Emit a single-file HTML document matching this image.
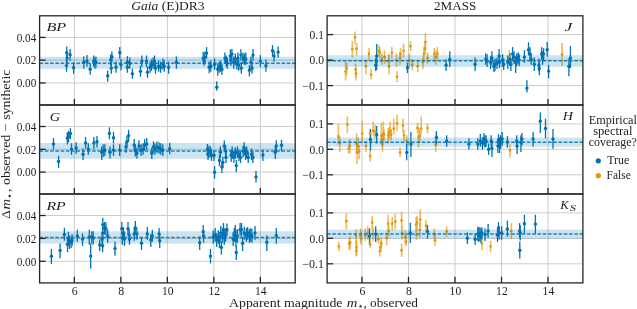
<!DOCTYPE html>
<html><head><meta charset="utf-8"><style>
html,body{margin:0;padding:0;background:#fff;width:637px;height:309px;overflow:hidden;font-family:"Liberation Serif",serif;}
svg{display:block;will-change:transform;}
</style></head><body>
<svg width="637" height="309" viewBox="0 0 637 309">
<rect width="637" height="309" fill="#fff"/>
<line x1="74.36" y1="15.8" x2="74.36" y2="105.0" stroke="#cccccc" stroke-width="1"/>
<line x1="120.86" y1="15.8" x2="120.86" y2="105.0" stroke="#cccccc" stroke-width="1"/>
<line x1="167.36" y1="15.8" x2="167.36" y2="105.0" stroke="#cccccc" stroke-width="1"/>
<line x1="213.86" y1="15.8" x2="213.86" y2="105.0" stroke="#cccccc" stroke-width="1"/>
<line x1="260.36" y1="15.8" x2="260.36" y2="105.0" stroke="#cccccc" stroke-width="1"/>
<line x1="39.6" y1="37.40" x2="295.2" y2="37.40" stroke="#cccccc" stroke-width="1"/>
<line x1="39.6" y1="60.15" x2="295.2" y2="60.15" stroke="#cccccc" stroke-width="1"/>
<line x1="39.6" y1="82.95" x2="295.2" y2="82.95" stroke="#cccccc" stroke-width="1"/>
<line x1="66.7" y1="46.5" x2="66.7" y2="58.7" stroke="#0072B2" stroke-width="1.3" stroke-opacity="1"/>
<line x1="67.1" y1="52.5" x2="67.1" y2="63.8" stroke="#0072B2" stroke-width="1.3" stroke-opacity="1"/>
<line x1="66.5" y1="59.5" x2="66.5" y2="71.8" stroke="#0072B2" stroke-width="1.3" stroke-opacity="1"/>
<line x1="70.1" y1="48.9" x2="70.1" y2="60.7" stroke="#0072B2" stroke-width="1.3" stroke-opacity="1"/>
<line x1="73.6" y1="62.6" x2="73.6" y2="73.8" stroke="#0072B2" stroke-width="1.3" stroke-opacity="1"/>
<line x1="83.8" y1="56.5" x2="83.8" y2="68.8" stroke="#0072B2" stroke-width="1.3" stroke-opacity="1"/>
<line x1="87.0" y1="55.1" x2="87.0" y2="66.8" stroke="#0072B2" stroke-width="1.3" stroke-opacity="1"/>
<line x1="90.2" y1="63.6" x2="90.2" y2="74.8" stroke="#0072B2" stroke-width="1.3" stroke-opacity="1"/>
<line x1="93.7" y1="55.5" x2="93.7" y2="66.8" stroke="#0072B2" stroke-width="1.3" stroke-opacity="1"/>
<line x1="94.9" y1="57.5" x2="94.9" y2="68.8" stroke="#0072B2" stroke-width="1.3" stroke-opacity="1"/>
<line x1="95.9" y1="56.5" x2="95.9" y2="67.8" stroke="#0072B2" stroke-width="1.3" stroke-opacity="1"/>
<line x1="107.7" y1="70.6" x2="107.7" y2="81.8" stroke="#0072B2" stroke-width="1.3" stroke-opacity="1"/>
<line x1="110.7" y1="54.5" x2="110.7" y2="65.8" stroke="#0072B2" stroke-width="1.3" stroke-opacity="1"/>
<line x1="111.3" y1="62.6" x2="111.3" y2="73.8" stroke="#0072B2" stroke-width="1.3" stroke-opacity="1"/>
<line x1="111.9" y1="51.5" x2="111.9" y2="62.3" stroke="#0072B2" stroke-width="1.3" stroke-opacity="1"/>
<line x1="116.0" y1="61.6" x2="116.0" y2="72.8" stroke="#0072B2" stroke-width="1.3" stroke-opacity="1"/>
<line x1="119.8" y1="47.1" x2="119.8" y2="58.7" stroke="#0072B2" stroke-width="1.3" stroke-opacity="1"/>
<line x1="121.0" y1="59.1" x2="121.0" y2="70.4" stroke="#0072B2" stroke-width="1.3" stroke-opacity="1"/>
<line x1="127.4" y1="56.1" x2="127.4" y2="67.8" stroke="#0072B2" stroke-width="1.3" stroke-opacity="1"/>
<line x1="127.4" y1="61.6" x2="127.4" y2="72.8" stroke="#0072B2" stroke-width="1.3" stroke-opacity="1"/>
<line x1="129.8" y1="57.5" x2="129.8" y2="68.8" stroke="#0072B2" stroke-width="1.3" stroke-opacity="1"/>
<line x1="132.4" y1="68.6" x2="132.4" y2="78.8" stroke="#0072B2" stroke-width="1.3" stroke-opacity="1"/>
<line x1="140.5" y1="65.6" x2="140.5" y2="76.8" stroke="#0072B2" stroke-width="1.3" stroke-opacity="1"/>
<line x1="141.9" y1="55.5" x2="141.9" y2="66.8" stroke="#0072B2" stroke-width="1.3" stroke-opacity="1"/>
<line x1="146.5" y1="55.5" x2="146.5" y2="66.8" stroke="#0072B2" stroke-width="1.3" stroke-opacity="1"/>
<line x1="147.5" y1="66.6" x2="147.5" y2="77.8" stroke="#0072B2" stroke-width="1.3" stroke-opacity="1"/>
<line x1="150.1" y1="61.6" x2="150.1" y2="72.8" stroke="#0072B2" stroke-width="1.3" stroke-opacity="1"/>
<line x1="151.5" y1="59.5" x2="151.5" y2="70.8" stroke="#0072B2" stroke-width="1.3" stroke-opacity="1"/>
<line x1="153.1" y1="57.5" x2="153.1" y2="68.8" stroke="#0072B2" stroke-width="1.3" stroke-opacity="1"/>
<line x1="154.5" y1="55.5" x2="154.5" y2="66.8" stroke="#0072B2" stroke-width="1.3" stroke-opacity="1"/>
<line x1="155.5" y1="62.6" x2="155.5" y2="73.8" stroke="#0072B2" stroke-width="1.3" stroke-opacity="1"/>
<line x1="158.6" y1="60.5" x2="158.6" y2="71.8" stroke="#0072B2" stroke-width="1.3" stroke-opacity="1"/>
<line x1="160.6" y1="61.6" x2="160.6" y2="72.8" stroke="#0072B2" stroke-width="1.3" stroke-opacity="1"/>
<line x1="163.0" y1="58.5" x2="163.0" y2="69.8" stroke="#0072B2" stroke-width="1.3" stroke-opacity="1"/>
<line x1="164.2" y1="60.5" x2="164.2" y2="71.8" stroke="#0072B2" stroke-width="1.3" stroke-opacity="1"/>
<line x1="168.6" y1="61.6" x2="168.6" y2="73.8" stroke="#0072B2" stroke-width="1.3" stroke-opacity="1"/>
<line x1="176.4" y1="56.5" x2="176.4" y2="68.8" stroke="#0072B2" stroke-width="1.3" stroke-opacity="1"/>
<line x1="203.2" y1="51.9" x2="203.2" y2="63.8" stroke="#0072B2" stroke-width="1.3" stroke-opacity="1"/>
<line x1="204.8" y1="51.5" x2="204.8" y2="62.8" stroke="#0072B2" stroke-width="1.3" stroke-opacity="1"/>
<line x1="206.6" y1="47.1" x2="206.6" y2="58.7" stroke="#0072B2" stroke-width="1.3" stroke-opacity="1"/>
<line x1="204.2" y1="55.5" x2="204.2" y2="65.8" stroke="#0072B2" stroke-width="1.3" stroke-opacity="1"/>
<line x1="209.2" y1="61.6" x2="209.2" y2="73.2" stroke="#0072B2" stroke-width="1.3" stroke-opacity="1"/>
<line x1="210.8" y1="60.5" x2="210.8" y2="71.8" stroke="#0072B2" stroke-width="1.3" stroke-opacity="1"/>
<line x1="214.6" y1="58.5" x2="214.6" y2="69.8" stroke="#0072B2" stroke-width="1.3" stroke-opacity="1"/>
<line x1="216.8" y1="81.2" x2="216.8" y2="90.7" stroke="#0072B2" stroke-width="1.3" stroke-opacity="1"/>
<line x1="217.8" y1="63.6" x2="217.8" y2="75.8" stroke="#0072B2" stroke-width="1.3" stroke-opacity="1"/>
<line x1="219.2" y1="61.6" x2="219.2" y2="72.8" stroke="#0072B2" stroke-width="1.3" stroke-opacity="1"/>
<line x1="220.6" y1="60.5" x2="220.6" y2="71.8" stroke="#0072B2" stroke-width="1.3" stroke-opacity="1"/>
<line x1="221.9" y1="63.6" x2="221.9" y2="74.8" stroke="#0072B2" stroke-width="1.3" stroke-opacity="1"/>
<line x1="224.9" y1="52.5" x2="224.9" y2="63.8" stroke="#0072B2" stroke-width="1.3" stroke-opacity="1"/>
<line x1="226.3" y1="55.5" x2="226.3" y2="66.8" stroke="#0072B2" stroke-width="1.3" stroke-opacity="1"/>
<line x1="227.3" y1="57.5" x2="227.3" y2="68.8" stroke="#0072B2" stroke-width="1.3" stroke-opacity="1"/>
<line x1="230.3" y1="49.5" x2="230.3" y2="61.7" stroke="#0072B2" stroke-width="1.3" stroke-opacity="1"/>
<line x1="230.9" y1="54.5" x2="230.9" y2="65.8" stroke="#0072B2" stroke-width="1.3" stroke-opacity="1"/>
<line x1="231.9" y1="48.9" x2="231.9" y2="59.7" stroke="#0072B2" stroke-width="1.3" stroke-opacity="1"/>
<line x1="233.7" y1="56.5" x2="233.7" y2="68.8" stroke="#0072B2" stroke-width="1.3" stroke-opacity="1"/>
<line x1="235.3" y1="53.5" x2="235.3" y2="64.8" stroke="#0072B2" stroke-width="1.3" stroke-opacity="1"/>
<line x1="236.9" y1="58.5" x2="236.9" y2="69.8" stroke="#0072B2" stroke-width="1.3" stroke-opacity="1"/>
<line x1="237.9" y1="52.5" x2="237.9" y2="63.8" stroke="#0072B2" stroke-width="1.3" stroke-opacity="1"/>
<line x1="238.7" y1="59.5" x2="238.7" y2="70.8" stroke="#0072B2" stroke-width="1.3" stroke-opacity="1"/>
<line x1="240.9" y1="48.9" x2="240.9" y2="60.7" stroke="#0072B2" stroke-width="1.3" stroke-opacity="1"/>
<line x1="241.3" y1="62.6" x2="241.3" y2="73.8" stroke="#0072B2" stroke-width="1.3" stroke-opacity="1"/>
<line x1="243.0" y1="52.5" x2="243.0" y2="63.8" stroke="#0072B2" stroke-width="1.3" stroke-opacity="1"/>
<line x1="244.4" y1="53.5" x2="244.4" y2="64.8" stroke="#0072B2" stroke-width="1.3" stroke-opacity="1"/>
<line x1="245.8" y1="52.5" x2="245.8" y2="64.8" stroke="#0072B2" stroke-width="1.3" stroke-opacity="1"/>
<line x1="249.4" y1="65.2" x2="249.4" y2="76.4" stroke="#0072B2" stroke-width="1.3" stroke-opacity="1"/>
<line x1="251.0" y1="56.5" x2="251.0" y2="67.8" stroke="#0072B2" stroke-width="1.3" stroke-opacity="1"/>
<line x1="252.0" y1="62.6" x2="252.0" y2="73.8" stroke="#0072B2" stroke-width="1.3" stroke-opacity="1"/>
<line x1="253.0" y1="49.1" x2="253.0" y2="60.7" stroke="#0072B2" stroke-width="1.3" stroke-opacity="1"/>
<line x1="260.4" y1="55.1" x2="260.4" y2="66.8" stroke="#0072B2" stroke-width="1.3" stroke-opacity="1"/>
<line x1="265.9" y1="59.5" x2="265.9" y2="71.8" stroke="#0072B2" stroke-width="1.3" stroke-opacity="1"/>
<line x1="272.5" y1="45.1" x2="272.5" y2="56.7" stroke="#0072B2" stroke-width="1.3" stroke-opacity="1"/>
<line x1="274.1" y1="50.5" x2="274.1" y2="61.7" stroke="#0072B2" stroke-width="1.3" stroke-opacity="1"/>
<line x1="278.1" y1="46.5" x2="278.1" y2="57.7" stroke="#0072B2" stroke-width="1.3" stroke-opacity="1"/>
<circle cx="66.7" cy="52.7" r="1.7" fill="#0072B2"/>
<circle cx="67.1" cy="58.1" r="1.7" fill="#0072B2"/>
<circle cx="66.5" cy="65.6" r="1.7" fill="#0072B2"/>
<circle cx="70.1" cy="54.7" r="1.7" fill="#0072B2"/>
<circle cx="73.6" cy="67.8" r="1.7" fill="#0072B2"/>
<circle cx="83.8" cy="62.2" r="1.7" fill="#0072B2"/>
<circle cx="87.0" cy="61.1" r="1.7" fill="#0072B2"/>
<circle cx="90.2" cy="69.2" r="1.7" fill="#0072B2"/>
<circle cx="93.7" cy="61.1" r="1.7" fill="#0072B2"/>
<circle cx="94.9" cy="63.2" r="1.7" fill="#0072B2"/>
<circle cx="95.9" cy="62.2" r="1.7" fill="#0072B2"/>
<circle cx="107.7" cy="75.8" r="1.7" fill="#0072B2"/>
<circle cx="110.7" cy="59.7" r="1.7" fill="#0072B2"/>
<circle cx="111.3" cy="68.2" r="1.7" fill="#0072B2"/>
<circle cx="111.9" cy="56.7" r="1.7" fill="#0072B2"/>
<circle cx="116.0" cy="67.2" r="1.7" fill="#0072B2"/>
<circle cx="119.8" cy="52.7" r="1.7" fill="#0072B2"/>
<circle cx="121.0" cy="64.6" r="1.7" fill="#0072B2"/>
<circle cx="127.4" cy="62.2" r="1.7" fill="#0072B2"/>
<circle cx="127.4" cy="67.2" r="1.7" fill="#0072B2"/>
<circle cx="129.8" cy="63.2" r="1.7" fill="#0072B2"/>
<circle cx="132.4" cy="73.8" r="1.7" fill="#0072B2"/>
<circle cx="140.5" cy="71.2" r="1.7" fill="#0072B2"/>
<circle cx="141.9" cy="61.1" r="1.7" fill="#0072B2"/>
<circle cx="146.5" cy="61.1" r="1.7" fill="#0072B2"/>
<circle cx="147.5" cy="72.2" r="1.7" fill="#0072B2"/>
<circle cx="150.1" cy="67.2" r="1.7" fill="#0072B2"/>
<circle cx="151.5" cy="65.2" r="1.7" fill="#0072B2"/>
<circle cx="153.1" cy="63.2" r="1.7" fill="#0072B2"/>
<circle cx="154.5" cy="61.1" r="1.7" fill="#0072B2"/>
<circle cx="155.5" cy="68.2" r="1.7" fill="#0072B2"/>
<circle cx="158.6" cy="66.2" r="1.7" fill="#0072B2"/>
<circle cx="160.6" cy="67.2" r="1.7" fill="#0072B2"/>
<circle cx="163.0" cy="64.2" r="1.7" fill="#0072B2"/>
<circle cx="164.2" cy="66.2" r="1.7" fill="#0072B2"/>
<circle cx="168.6" cy="67.2" r="1.7" fill="#0072B2"/>
<circle cx="176.4" cy="62.2" r="1.7" fill="#0072B2"/>
<circle cx="203.2" cy="58.1" r="1.7" fill="#0072B2"/>
<circle cx="204.8" cy="57.1" r="1.7" fill="#0072B2"/>
<circle cx="206.6" cy="53.1" r="1.7" fill="#0072B2"/>
<circle cx="204.2" cy="61.1" r="1.7" fill="#0072B2"/>
<circle cx="209.2" cy="67.2" r="1.7" fill="#0072B2"/>
<circle cx="210.8" cy="66.2" r="1.7" fill="#0072B2"/>
<circle cx="214.6" cy="64.2" r="1.7" fill="#0072B2"/>
<circle cx="216.8" cy="87.3" r="1.7" fill="#0072B2"/>
<circle cx="217.8" cy="69.2" r="1.7" fill="#0072B2"/>
<circle cx="219.2" cy="67.2" r="1.7" fill="#0072B2"/>
<circle cx="220.6" cy="66.2" r="1.7" fill="#0072B2"/>
<circle cx="221.9" cy="69.2" r="1.7" fill="#0072B2"/>
<circle cx="224.9" cy="58.1" r="1.7" fill="#0072B2"/>
<circle cx="226.3" cy="61.1" r="1.7" fill="#0072B2"/>
<circle cx="227.3" cy="63.2" r="1.7" fill="#0072B2"/>
<circle cx="230.3" cy="56.1" r="1.7" fill="#0072B2"/>
<circle cx="230.9" cy="60.1" r="1.7" fill="#0072B2"/>
<circle cx="231.9" cy="54.1" r="1.7" fill="#0072B2"/>
<circle cx="233.7" cy="62.2" r="1.7" fill="#0072B2"/>
<circle cx="235.3" cy="59.1" r="1.7" fill="#0072B2"/>
<circle cx="236.9" cy="64.2" r="1.7" fill="#0072B2"/>
<circle cx="237.9" cy="58.1" r="1.7" fill="#0072B2"/>
<circle cx="238.7" cy="65.2" r="1.7" fill="#0072B2"/>
<circle cx="240.9" cy="55.1" r="1.7" fill="#0072B2"/>
<circle cx="241.3" cy="68.2" r="1.7" fill="#0072B2"/>
<circle cx="243.0" cy="58.1" r="1.7" fill="#0072B2"/>
<circle cx="244.4" cy="59.1" r="1.7" fill="#0072B2"/>
<circle cx="245.8" cy="59.1" r="1.7" fill="#0072B2"/>
<circle cx="249.4" cy="70.2" r="1.7" fill="#0072B2"/>
<circle cx="251.0" cy="62.2" r="1.7" fill="#0072B2"/>
<circle cx="252.0" cy="68.2" r="1.7" fill="#0072B2"/>
<circle cx="253.0" cy="55.1" r="1.7" fill="#0072B2"/>
<circle cx="260.4" cy="61.1" r="1.7" fill="#0072B2"/>
<circle cx="265.9" cy="65.8" r="1.7" fill="#0072B2"/>
<circle cx="272.5" cy="50.7" r="1.7" fill="#0072B2"/>
<circle cx="274.1" cy="56.1" r="1.7" fill="#0072B2"/>
<circle cx="278.1" cy="52.1" r="1.7" fill="#0072B2"/>
<rect x="39.6" y="56.8" width="255.60" height="12.00" fill="rgba(0,114,178,0.2)"/>
<line x1="39.6" y1="63.2" x2="295.2" y2="63.2" stroke="#0072B2" stroke-width="1.5" stroke-opacity="0.85" stroke-dasharray="3.55 1.71"/>
<line x1="74.36" y1="105.0" x2="74.36" y2="98.90" stroke="#262626" stroke-width="1.3"/>
<line x1="120.86" y1="105.0" x2="120.86" y2="98.90" stroke="#262626" stroke-width="1.3"/>
<line x1="167.36" y1="105.0" x2="167.36" y2="98.90" stroke="#262626" stroke-width="1.3"/>
<line x1="213.86" y1="105.0" x2="213.86" y2="98.90" stroke="#262626" stroke-width="1.3"/>
<line x1="260.36" y1="105.0" x2="260.36" y2="98.90" stroke="#262626" stroke-width="1.3"/>
<line x1="39.6" y1="37.40" x2="45.60" y2="37.40" stroke="#262626" stroke-width="1.3"/>
<line x1="39.6" y1="60.15" x2="45.60" y2="60.15" stroke="#262626" stroke-width="1.3"/>
<line x1="39.6" y1="82.95" x2="45.60" y2="82.95" stroke="#262626" stroke-width="1.3"/>
<rect x="39.6" y="15.8" width="255.60" height="89.20" fill="none" stroke="#262626" stroke-width="1.3"/>
<line x1="362.00" y1="15.8" x2="362.00" y2="105.0" stroke="#cccccc" stroke-width="1"/>
<line x1="408.50" y1="15.8" x2="408.50" y2="105.0" stroke="#cccccc" stroke-width="1"/>
<line x1="455.00" y1="15.8" x2="455.00" y2="105.0" stroke="#cccccc" stroke-width="1"/>
<line x1="501.50" y1="15.8" x2="501.50" y2="105.0" stroke="#cccccc" stroke-width="1"/>
<line x1="548.00" y1="15.8" x2="548.00" y2="105.0" stroke="#cccccc" stroke-width="1"/>
<line x1="327.1" y1="34.60" x2="582.9" y2="34.60" stroke="#cccccc" stroke-width="1"/>
<line x1="327.1" y1="60.10" x2="582.9" y2="60.10" stroke="#cccccc" stroke-width="1"/>
<line x1="327.1" y1="85.60" x2="582.9" y2="85.60" stroke="#cccccc" stroke-width="1"/>
<line x1="345.6" y1="61.6" x2="345.6" y2="80.4" stroke="#E49805" stroke-width="1.6" stroke-opacity="0.65"/>
<line x1="346.7" y1="62.6" x2="346.7" y2="75.2" stroke="#E49805" stroke-width="1.6" stroke-opacity="0.65"/>
<line x1="352.3" y1="40.9" x2="352.3" y2="57.6" stroke="#E49805" stroke-width="1.6" stroke-opacity="0.65"/>
<line x1="355.0" y1="31.5" x2="355.0" y2="44.1" stroke="#E49805" stroke-width="1.6" stroke-opacity="0.65"/>
<line x1="356.0" y1="67.8" x2="356.0" y2="80.4" stroke="#E49805" stroke-width="1.6" stroke-opacity="0.65"/>
<line x1="356.6" y1="42.9" x2="356.6" y2="55.5" stroke="#E49805" stroke-width="1.6" stroke-opacity="0.65"/>
<line x1="355.6" y1="63.6" x2="355.6" y2="77.3" stroke="#E49805" stroke-width="1.6" stroke-opacity="0.65"/>
<line x1="365.9" y1="60.5" x2="365.9" y2="74.2" stroke="#E49805" stroke-width="1.6" stroke-opacity="0.65"/>
<line x1="369.0" y1="48.1" x2="369.0" y2="60.7" stroke="#E49805" stroke-width="1.6" stroke-opacity="0.65"/>
<line x1="371.1" y1="68.8" x2="371.1" y2="79.3" stroke="#E49805" stroke-width="1.6" stroke-opacity="0.65"/>
<line x1="375.7" y1="58.5" x2="375.7" y2="71.1" stroke="#0072B2" stroke-width="1.3" stroke-opacity="1"/>
<line x1="376.7" y1="44.0" x2="376.7" y2="70.0" stroke="#0072B2" stroke-width="1.3" stroke-opacity="1"/>
<line x1="376.3" y1="55.4" x2="376.3" y2="66.9" stroke="#0072B2" stroke-width="1.3" stroke-opacity="1"/>
<line x1="378.8" y1="45.0" x2="378.8" y2="56.6" stroke="#E49805" stroke-width="1.6" stroke-opacity="0.65"/>
<line x1="379.8" y1="47.1" x2="379.8" y2="58.6" stroke="#E49805" stroke-width="1.6" stroke-opacity="0.65"/>
<line x1="381.9" y1="53.3" x2="381.9" y2="64.8" stroke="#E49805" stroke-width="1.6" stroke-opacity="0.65"/>
<line x1="384.6" y1="50.2" x2="384.6" y2="63.8" stroke="#E49805" stroke-width="1.6" stroke-opacity="0.65"/>
<line x1="389.1" y1="54.3" x2="389.1" y2="74.2" stroke="#E49805" stroke-width="1.6" stroke-opacity="0.65"/>
<line x1="388.7" y1="54.3" x2="388.7" y2="68.0" stroke="#E49805" stroke-width="1.6" stroke-opacity="0.65"/>
<line x1="391.8" y1="47.1" x2="391.8" y2="58.6" stroke="#E49805" stroke-width="1.6" stroke-opacity="0.65"/>
<line x1="396.4" y1="53.3" x2="396.4" y2="66.9" stroke="#E49805" stroke-width="1.6" stroke-opacity="0.65"/>
<line x1="397.0" y1="70.9" x2="397.0" y2="82.0" stroke="#E49805" stroke-width="1.6" stroke-opacity="0.65"/>
<line x1="399.9" y1="52.3" x2="399.9" y2="64.8" stroke="#E49805" stroke-width="1.6" stroke-opacity="0.65"/>
<line x1="400.5" y1="48.1" x2="400.5" y2="59.7" stroke="#E49805" stroke-width="1.6" stroke-opacity="0.65"/>
<line x1="403.6" y1="43.6" x2="403.6" y2="57.6" stroke="#E49805" stroke-width="1.6" stroke-opacity="0.65"/>
<line x1="407.4" y1="62.6" x2="407.4" y2="73.1" stroke="#0072B2" stroke-width="1.3" stroke-opacity="1"/>
<line x1="409.4" y1="53.3" x2="409.4" y2="68.0" stroke="#E49805" stroke-width="1.6" stroke-opacity="0.65"/>
<line x1="410.5" y1="40.9" x2="410.5" y2="51.4" stroke="#E49805" stroke-width="1.6" stroke-opacity="0.65"/>
<line x1="412.3" y1="59.5" x2="412.3" y2="70.0" stroke="#E49805" stroke-width="1.6" stroke-opacity="0.65"/>
<line x1="417.7" y1="60.5" x2="417.7" y2="72.1" stroke="#E49805" stroke-width="1.6" stroke-opacity="0.65"/>
<line x1="422.9" y1="56.4" x2="422.9" y2="69.0" stroke="#E49805" stroke-width="1.6" stroke-opacity="0.65"/>
<line x1="423.9" y1="47.1" x2="423.9" y2="59.7" stroke="#E49805" stroke-width="1.6" stroke-opacity="0.65"/>
<line x1="425.0" y1="42.9" x2="425.0" y2="54.5" stroke="#E49805" stroke-width="1.6" stroke-opacity="0.65"/>
<line x1="425.4" y1="32.6" x2="425.4" y2="51.4" stroke="#E49805" stroke-width="1.6" stroke-opacity="0.65"/>
<line x1="427.5" y1="52.3" x2="427.5" y2="63.8" stroke="#E49805" stroke-width="1.6" stroke-opacity="0.65"/>
<line x1="434.3" y1="48.1" x2="434.3" y2="59.7" stroke="#E49805" stroke-width="1.6" stroke-opacity="0.65"/>
<line x1="435.7" y1="50.2" x2="435.7" y2="64.8" stroke="#E49805" stroke-width="1.6" stroke-opacity="0.65"/>
<line x1="437.4" y1="47.1" x2="437.4" y2="60.7" stroke="#E49805" stroke-width="1.6" stroke-opacity="0.65"/>
<line x1="446.1" y1="59.5" x2="446.1" y2="71.1" stroke="#0072B2" stroke-width="1.3" stroke-opacity="1"/>
<line x1="449.8" y1="51.2" x2="449.8" y2="66.9" stroke="#0072B2" stroke-width="1.3" stroke-opacity="1"/>
<line x1="475.1" y1="57.4" x2="475.1" y2="71.1" stroke="#0072B2" stroke-width="1.3" stroke-opacity="1"/>
<line x1="485.7" y1="53.3" x2="485.7" y2="64.8" stroke="#0072B2" stroke-width="1.3" stroke-opacity="1"/>
<line x1="487.1" y1="54.3" x2="487.1" y2="66.9" stroke="#0072B2" stroke-width="1.3" stroke-opacity="1"/>
<line x1="490.6" y1="56.4" x2="490.6" y2="69.0" stroke="#0072B2" stroke-width="1.3" stroke-opacity="1"/>
<line x1="491.9" y1="51.2" x2="491.9" y2="64.8" stroke="#0072B2" stroke-width="1.3" stroke-opacity="1"/>
<line x1="493.9" y1="60.5" x2="493.9" y2="72.1" stroke="#0072B2" stroke-width="1.3" stroke-opacity="1"/>
<line x1="495.0" y1="58.5" x2="495.0" y2="71.1" stroke="#0072B2" stroke-width="1.3" stroke-opacity="1"/>
<line x1="497.0" y1="57.4" x2="497.0" y2="69.0" stroke="#0072B2" stroke-width="1.3" stroke-opacity="1"/>
<line x1="499.1" y1="49.1" x2="499.1" y2="61.7" stroke="#0072B2" stroke-width="1.3" stroke-opacity="1"/>
<line x1="499.5" y1="56.4" x2="499.5" y2="68.0" stroke="#0072B2" stroke-width="1.3" stroke-opacity="1"/>
<line x1="502.6" y1="54.3" x2="502.6" y2="66.9" stroke="#0072B2" stroke-width="1.3" stroke-opacity="1"/>
<line x1="503.7" y1="58.5" x2="503.7" y2="70.0" stroke="#0072B2" stroke-width="1.3" stroke-opacity="1"/>
<line x1="507.8" y1="55.4" x2="507.8" y2="69.0" stroke="#0072B2" stroke-width="1.3" stroke-opacity="1"/>
<line x1="509.3" y1="50.2" x2="509.3" y2="63.8" stroke="#E49805" stroke-width="1.6" stroke-opacity="0.65"/>
<line x1="509.9" y1="53.3" x2="509.9" y2="65.9" stroke="#0072B2" stroke-width="1.3" stroke-opacity="1"/>
<line x1="510.9" y1="58.5" x2="510.9" y2="71.1" stroke="#0072B2" stroke-width="1.3" stroke-opacity="1"/>
<line x1="512.6" y1="47.1" x2="512.6" y2="60.7" stroke="#0072B2" stroke-width="1.3" stroke-opacity="1"/>
<line x1="514.0" y1="51.2" x2="514.0" y2="63.8" stroke="#0072B2" stroke-width="1.3" stroke-opacity="1"/>
<line x1="515.7" y1="56.4" x2="515.7" y2="73.1" stroke="#0072B2" stroke-width="1.3" stroke-opacity="1"/>
<line x1="516.7" y1="53.3" x2="516.7" y2="65.9" stroke="#0072B2" stroke-width="1.3" stroke-opacity="1"/>
<line x1="518.2" y1="52.3" x2="518.2" y2="63.8" stroke="#0072B2" stroke-width="1.3" stroke-opacity="1"/>
<line x1="519.2" y1="54.3" x2="519.2" y2="65.9" stroke="#0072B2" stroke-width="1.3" stroke-opacity="1"/>
<line x1="524.4" y1="50.2" x2="524.4" y2="62.8" stroke="#0072B2" stroke-width="1.3" stroke-opacity="1"/>
<line x1="526.9" y1="80.2" x2="526.9" y2="92.6" stroke="#0072B2" stroke-width="1.3" stroke-opacity="1"/>
<line x1="528.5" y1="42.3" x2="528.5" y2="55.5" stroke="#0072B2" stroke-width="1.3" stroke-opacity="1"/>
<line x1="530.0" y1="47.1" x2="530.0" y2="60.7" stroke="#0072B2" stroke-width="1.3" stroke-opacity="1"/>
<line x1="531.2" y1="53.3" x2="531.2" y2="64.8" stroke="#0072B2" stroke-width="1.3" stroke-opacity="1"/>
<line x1="534.3" y1="57.4" x2="534.3" y2="71.1" stroke="#0072B2" stroke-width="1.3" stroke-opacity="1"/>
<line x1="538.9" y1="58.5" x2="538.9" y2="71.1" stroke="#0072B2" stroke-width="1.3" stroke-opacity="1"/>
<line x1="539.3" y1="62.6" x2="539.3" y2="75.2" stroke="#0072B2" stroke-width="1.3" stroke-opacity="1"/>
<line x1="541.6" y1="47.1" x2="541.6" y2="59.7" stroke="#0072B2" stroke-width="1.3" stroke-opacity="1"/>
<line x1="542.6" y1="51.2" x2="542.6" y2="64.8" stroke="#0072B2" stroke-width="1.3" stroke-opacity="1"/>
<line x1="543.6" y1="48.1" x2="543.6" y2="60.7" stroke="#0072B2" stroke-width="1.3" stroke-opacity="1"/>
<line x1="547.2" y1="41.9" x2="547.2" y2="56.6" stroke="#0072B2" stroke-width="1.3" stroke-opacity="1"/>
<line x1="548.6" y1="64.7" x2="548.6" y2="78.3" stroke="#0072B2" stroke-width="1.3" stroke-opacity="1"/>
<line x1="562.1" y1="42.9" x2="562.1" y2="65.9" stroke="#E49805" stroke-width="1.6" stroke-opacity="0.65"/>
<line x1="568.9" y1="58.5" x2="568.9" y2="76.2" stroke="#0072B2" stroke-width="1.3" stroke-opacity="1"/>
<line x1="570.4" y1="46.0" x2="570.4" y2="68.0" stroke="#0072B2" stroke-width="1.3" stroke-opacity="1"/>
<circle cx="345.6" cy="71.5" r="1.35" fill="#E49805"/>
<circle cx="346.7" cy="68.4" r="1.35" fill="#E49805"/>
<circle cx="352.3" cy="49.1" r="1.35" fill="#E49805"/>
<circle cx="355.0" cy="37.3" r="1.35" fill="#E49805"/>
<circle cx="356.0" cy="73.6" r="1.35" fill="#E49805"/>
<circle cx="356.6" cy="48.7" r="1.35" fill="#E49805"/>
<circle cx="355.6" cy="69.4" r="1.35" fill="#E49805"/>
<circle cx="365.9" cy="66.3" r="1.35" fill="#E49805"/>
<circle cx="369.0" cy="53.9" r="1.35" fill="#E49805"/>
<circle cx="371.1" cy="74.6" r="1.35" fill="#E49805"/>
<circle cx="375.7" cy="65.3" r="1.7" fill="#0072B2"/>
<circle cx="376.7" cy="56.0" r="1.7" fill="#0072B2"/>
<circle cx="376.3" cy="61.1" r="1.7" fill="#0072B2"/>
<circle cx="378.8" cy="50.8" r="1.35" fill="#E49805"/>
<circle cx="379.8" cy="52.4" r="1.35" fill="#E49805"/>
<circle cx="381.9" cy="59.1" r="1.35" fill="#E49805"/>
<circle cx="384.6" cy="57.0" r="1.35" fill="#E49805"/>
<circle cx="389.1" cy="66.3" r="1.35" fill="#E49805"/>
<circle cx="388.7" cy="61.1" r="1.35" fill="#E49805"/>
<circle cx="391.8" cy="52.9" r="1.35" fill="#E49805"/>
<circle cx="396.4" cy="60.1" r="1.35" fill="#E49805"/>
<circle cx="397.0" cy="76.7" r="1.35" fill="#E49805"/>
<circle cx="399.9" cy="58.0" r="1.35" fill="#E49805"/>
<circle cx="400.5" cy="53.9" r="1.35" fill="#E49805"/>
<circle cx="403.6" cy="50.8" r="1.35" fill="#E49805"/>
<circle cx="407.4" cy="67.8" r="1.7" fill="#0072B2"/>
<circle cx="409.4" cy="60.1" r="1.35" fill="#E49805"/>
<circle cx="410.5" cy="46.2" r="1.35" fill="#E49805"/>
<circle cx="412.3" cy="64.9" r="1.35" fill="#E49805"/>
<circle cx="417.7" cy="66.3" r="1.35" fill="#E49805"/>
<circle cx="422.9" cy="62.2" r="1.35" fill="#E49805"/>
<circle cx="423.9" cy="53.9" r="1.35" fill="#E49805"/>
<circle cx="425.0" cy="48.7" r="1.35" fill="#E49805"/>
<circle cx="425.4" cy="42.1" r="1.35" fill="#E49805"/>
<circle cx="427.5" cy="58.0" r="1.35" fill="#E49805"/>
<circle cx="434.3" cy="53.9" r="1.35" fill="#E49805"/>
<circle cx="435.7" cy="57.0" r="1.35" fill="#E49805"/>
<circle cx="437.4" cy="53.9" r="1.35" fill="#E49805"/>
<circle cx="446.1" cy="65.3" r="1.7" fill="#0072B2"/>
<circle cx="449.8" cy="59.5" r="1.7" fill="#0072B2"/>
<circle cx="475.1" cy="64.2" r="1.7" fill="#0072B2"/>
<circle cx="485.7" cy="59.1" r="1.7" fill="#0072B2"/>
<circle cx="487.1" cy="61.1" r="1.7" fill="#0072B2"/>
<circle cx="490.6" cy="62.2" r="1.7" fill="#0072B2"/>
<circle cx="491.9" cy="58.0" r="1.7" fill="#0072B2"/>
<circle cx="493.9" cy="66.3" r="1.7" fill="#0072B2"/>
<circle cx="495.0" cy="64.2" r="1.7" fill="#0072B2"/>
<circle cx="497.0" cy="63.2" r="1.7" fill="#0072B2"/>
<circle cx="499.1" cy="56.0" r="1.7" fill="#0072B2"/>
<circle cx="499.5" cy="62.2" r="1.7" fill="#0072B2"/>
<circle cx="502.6" cy="60.1" r="1.7" fill="#0072B2"/>
<circle cx="503.7" cy="64.2" r="1.7" fill="#0072B2"/>
<circle cx="507.8" cy="62.2" r="1.7" fill="#0072B2"/>
<circle cx="509.3" cy="57.0" r="1.35" fill="#E49805"/>
<circle cx="509.9" cy="59.1" r="1.7" fill="#0072B2"/>
<circle cx="510.9" cy="64.2" r="1.7" fill="#0072B2"/>
<circle cx="512.6" cy="53.9" r="1.7" fill="#0072B2"/>
<circle cx="514.0" cy="57.0" r="1.7" fill="#0072B2"/>
<circle cx="515.7" cy="62.2" r="1.7" fill="#0072B2"/>
<circle cx="516.7" cy="59.1" r="1.7" fill="#0072B2"/>
<circle cx="518.2" cy="57.0" r="1.7" fill="#0072B2"/>
<circle cx="519.2" cy="60.1" r="1.7" fill="#0072B2"/>
<circle cx="524.4" cy="57.0" r="1.7" fill="#0072B2"/>
<circle cx="526.9" cy="88.1" r="1.7" fill="#0072B2"/>
<circle cx="528.5" cy="49.7" r="1.7" fill="#0072B2"/>
<circle cx="530.0" cy="53.9" r="1.7" fill="#0072B2"/>
<circle cx="531.2" cy="59.1" r="1.7" fill="#0072B2"/>
<circle cx="534.3" cy="64.2" r="1.7" fill="#0072B2"/>
<circle cx="538.9" cy="65.3" r="1.7" fill="#0072B2"/>
<circle cx="539.3" cy="68.4" r="1.7" fill="#0072B2"/>
<circle cx="541.6" cy="53.9" r="1.7" fill="#0072B2"/>
<circle cx="542.6" cy="58.0" r="1.7" fill="#0072B2"/>
<circle cx="543.6" cy="53.9" r="1.7" fill="#0072B2"/>
<circle cx="547.2" cy="49.7" r="1.7" fill="#0072B2"/>
<circle cx="548.6" cy="71.1" r="1.7" fill="#0072B2"/>
<circle cx="562.1" cy="54.5" r="1.35" fill="#E49805"/>
<circle cx="568.9" cy="66.3" r="1.7" fill="#0072B2"/>
<circle cx="570.4" cy="58.0" r="1.7" fill="#0072B2"/>
<rect x="327.1" y="55.2" width="255.80" height="11.60" fill="rgba(0,114,178,0.2)"/>
<line x1="327.1" y1="60.7" x2="582.9" y2="60.7" stroke="#0072B2" stroke-width="1.5" stroke-opacity="0.85" stroke-dasharray="3.55 1.71"/>
<line x1="362.00" y1="105.0" x2="362.00" y2="98.90" stroke="#262626" stroke-width="1.3"/>
<line x1="408.50" y1="105.0" x2="408.50" y2="98.90" stroke="#262626" stroke-width="1.3"/>
<line x1="455.00" y1="105.0" x2="455.00" y2="98.90" stroke="#262626" stroke-width="1.3"/>
<line x1="501.50" y1="105.0" x2="501.50" y2="98.90" stroke="#262626" stroke-width="1.3"/>
<line x1="548.00" y1="105.0" x2="548.00" y2="98.90" stroke="#262626" stroke-width="1.3"/>
<line x1="327.1" y1="34.60" x2="333.10" y2="34.60" stroke="#262626" stroke-width="1.3"/>
<line x1="327.1" y1="60.10" x2="333.10" y2="60.10" stroke="#262626" stroke-width="1.3"/>
<line x1="327.1" y1="85.60" x2="333.10" y2="85.60" stroke="#262626" stroke-width="1.3"/>
<rect x="327.1" y="15.8" width="255.80" height="89.20" fill="none" stroke="#262626" stroke-width="1.3"/>
<line x1="74.36" y1="105.0" x2="74.36" y2="194.0" stroke="#cccccc" stroke-width="1"/>
<line x1="120.86" y1="105.0" x2="120.86" y2="194.0" stroke="#cccccc" stroke-width="1"/>
<line x1="167.36" y1="105.0" x2="167.36" y2="194.0" stroke="#cccccc" stroke-width="1"/>
<line x1="213.86" y1="105.0" x2="213.86" y2="194.0" stroke="#cccccc" stroke-width="1"/>
<line x1="260.36" y1="105.0" x2="260.36" y2="194.0" stroke="#cccccc" stroke-width="1"/>
<line x1="39.6" y1="126.50" x2="295.2" y2="126.50" stroke="#cccccc" stroke-width="1"/>
<line x1="39.6" y1="149.30" x2="295.2" y2="149.30" stroke="#cccccc" stroke-width="1"/>
<line x1="39.6" y1="172.10" x2="295.2" y2="172.10" stroke="#cccccc" stroke-width="1"/>
<line x1="53.5" y1="138.1" x2="53.5" y2="149.7" stroke="#0072B2" stroke-width="1.3" stroke-opacity="1"/>
<line x1="58.6" y1="155.7" x2="58.6" y2="167.9" stroke="#0072B2" stroke-width="1.3" stroke-opacity="1"/>
<line x1="67.3" y1="132.3" x2="67.3" y2="144.5" stroke="#0072B2" stroke-width="1.3" stroke-opacity="1"/>
<line x1="68.6" y1="130.9" x2="68.6" y2="142.4" stroke="#0072B2" stroke-width="1.3" stroke-opacity="1"/>
<line x1="70.4" y1="128.2" x2="70.4" y2="139.3" stroke="#0072B2" stroke-width="1.3" stroke-opacity="1"/>
<line x1="71.5" y1="143.3" x2="71.5" y2="154.8" stroke="#0072B2" stroke-width="1.3" stroke-opacity="1"/>
<line x1="76.2" y1="142.3" x2="76.2" y2="153.8" stroke="#0072B2" stroke-width="1.3" stroke-opacity="1"/>
<line x1="83.1" y1="148.5" x2="83.1" y2="160.0" stroke="#0072B2" stroke-width="1.3" stroke-opacity="1"/>
<line x1="85.6" y1="137.1" x2="85.6" y2="148.6" stroke="#0072B2" stroke-width="1.3" stroke-opacity="1"/>
<line x1="88.3" y1="143.3" x2="88.3" y2="154.8" stroke="#0072B2" stroke-width="1.3" stroke-opacity="1"/>
<line x1="93.9" y1="137.1" x2="93.9" y2="149.3" stroke="#0072B2" stroke-width="1.3" stroke-opacity="1"/>
<line x1="97.0" y1="136.0" x2="97.0" y2="147.6" stroke="#0072B2" stroke-width="1.3" stroke-opacity="1"/>
<line x1="101.7" y1="146.4" x2="101.7" y2="160.0" stroke="#0072B2" stroke-width="1.3" stroke-opacity="1"/>
<line x1="103.2" y1="144.3" x2="103.2" y2="156.9" stroke="#0072B2" stroke-width="1.3" stroke-opacity="1"/>
<line x1="104.8" y1="144.3" x2="104.8" y2="155.9" stroke="#0072B2" stroke-width="1.3" stroke-opacity="1"/>
<line x1="109.4" y1="127.3" x2="109.4" y2="139.3" stroke="#0072B2" stroke-width="1.3" stroke-opacity="1"/>
<line x1="110.0" y1="146.4" x2="110.0" y2="158.6" stroke="#0072B2" stroke-width="1.3" stroke-opacity="1"/>
<line x1="113.5" y1="131.9" x2="113.5" y2="143.5" stroke="#0072B2" stroke-width="1.3" stroke-opacity="1"/>
<line x1="113.5" y1="144.3" x2="113.5" y2="155.9" stroke="#0072B2" stroke-width="1.3" stroke-opacity="1"/>
<line x1="119.7" y1="144.3" x2="119.7" y2="155.9" stroke="#0072B2" stroke-width="1.3" stroke-opacity="1"/>
<line x1="126.0" y1="141.2" x2="126.0" y2="152.8" stroke="#0072B2" stroke-width="1.3" stroke-opacity="1"/>
<line x1="127.0" y1="136.0" x2="127.0" y2="147.6" stroke="#0072B2" stroke-width="1.3" stroke-opacity="1"/>
<line x1="128.6" y1="129.8" x2="128.6" y2="141.8" stroke="#0072B2" stroke-width="1.3" stroke-opacity="1"/>
<line x1="134.2" y1="139.1" x2="134.2" y2="150.7" stroke="#0072B2" stroke-width="1.3" stroke-opacity="1"/>
<line x1="135.3" y1="144.9" x2="135.3" y2="156.5" stroke="#0072B2" stroke-width="1.3" stroke-opacity="1"/>
<line x1="136.9" y1="147.4" x2="136.9" y2="158.6" stroke="#0072B2" stroke-width="1.3" stroke-opacity="1"/>
<line x1="139.0" y1="140.2" x2="139.0" y2="151.7" stroke="#0072B2" stroke-width="1.3" stroke-opacity="1"/>
<line x1="141.1" y1="144.3" x2="141.1" y2="155.9" stroke="#0072B2" stroke-width="1.3" stroke-opacity="1"/>
<line x1="143.1" y1="143.3" x2="143.1" y2="154.8" stroke="#0072B2" stroke-width="1.3" stroke-opacity="1"/>
<line x1="144.6" y1="139.1" x2="144.6" y2="150.7" stroke="#0072B2" stroke-width="1.3" stroke-opacity="1"/>
<line x1="146.7" y1="138.1" x2="146.7" y2="149.7" stroke="#0072B2" stroke-width="1.3" stroke-opacity="1"/>
<line x1="151.8" y1="147.4" x2="151.8" y2="159.0" stroke="#0072B2" stroke-width="1.3" stroke-opacity="1"/>
<line x1="153.5" y1="141.2" x2="153.5" y2="152.8" stroke="#0072B2" stroke-width="1.3" stroke-opacity="1"/>
<line x1="155.0" y1="143.3" x2="155.0" y2="154.8" stroke="#0072B2" stroke-width="1.3" stroke-opacity="1"/>
<line x1="157.0" y1="141.2" x2="157.0" y2="152.8" stroke="#0072B2" stroke-width="1.3" stroke-opacity="1"/>
<line x1="159.1" y1="142.3" x2="159.1" y2="153.8" stroke="#0072B2" stroke-width="1.3" stroke-opacity="1"/>
<line x1="160.8" y1="143.3" x2="160.8" y2="154.8" stroke="#0072B2" stroke-width="1.3" stroke-opacity="1"/>
<line x1="162.8" y1="144.3" x2="162.8" y2="155.9" stroke="#0072B2" stroke-width="1.3" stroke-opacity="1"/>
<line x1="169.7" y1="142.7" x2="169.7" y2="154.2" stroke="#0072B2" stroke-width="1.3" stroke-opacity="1"/>
<line x1="207.4" y1="143.9" x2="207.4" y2="154.8" stroke="#0072B2" stroke-width="1.3" stroke-opacity="1"/>
<line x1="208.0" y1="148.5" x2="208.0" y2="160.0" stroke="#0072B2" stroke-width="1.3" stroke-opacity="1"/>
<line x1="209.0" y1="145.4" x2="209.0" y2="158.0" stroke="#0072B2" stroke-width="1.3" stroke-opacity="1"/>
<line x1="210.5" y1="146.4" x2="210.5" y2="156.9" stroke="#0072B2" stroke-width="1.3" stroke-opacity="1"/>
<line x1="211.5" y1="149.5" x2="211.5" y2="161.1" stroke="#0072B2" stroke-width="1.3" stroke-opacity="1"/>
<line x1="214.0" y1="150.5" x2="214.0" y2="161.1" stroke="#0072B2" stroke-width="1.3" stroke-opacity="1"/>
<line x1="214.6" y1="166.1" x2="214.6" y2="178.7" stroke="#0072B2" stroke-width="1.3" stroke-opacity="1"/>
<line x1="219.4" y1="154.7" x2="219.4" y2="166.2" stroke="#0072B2" stroke-width="1.3" stroke-opacity="1"/>
<line x1="220.4" y1="146.4" x2="220.4" y2="158.0" stroke="#0072B2" stroke-width="1.3" stroke-opacity="1"/>
<line x1="221.9" y1="160.9" x2="221.9" y2="172.9" stroke="#0072B2" stroke-width="1.3" stroke-opacity="1"/>
<line x1="222.9" y1="156.8" x2="222.9" y2="168.3" stroke="#0072B2" stroke-width="1.3" stroke-opacity="1"/>
<line x1="224.3" y1="140.6" x2="224.3" y2="151.7" stroke="#0072B2" stroke-width="1.3" stroke-opacity="1"/>
<line x1="225.6" y1="145.4" x2="225.6" y2="156.9" stroke="#0072B2" stroke-width="1.3" stroke-opacity="1"/>
<line x1="226.0" y1="151.6" x2="226.0" y2="163.1" stroke="#0072B2" stroke-width="1.3" stroke-opacity="1"/>
<line x1="231.2" y1="149.5" x2="231.2" y2="162.1" stroke="#0072B2" stroke-width="1.3" stroke-opacity="1"/>
<line x1="232.2" y1="146.4" x2="232.2" y2="159.0" stroke="#0072B2" stroke-width="1.3" stroke-opacity="1"/>
<line x1="233.9" y1="150.5" x2="233.9" y2="163.1" stroke="#0072B2" stroke-width="1.3" stroke-opacity="1"/>
<line x1="235.3" y1="147.4" x2="235.3" y2="159.0" stroke="#0072B2" stroke-width="1.3" stroke-opacity="1"/>
<line x1="236.3" y1="159.9" x2="236.3" y2="172.0" stroke="#0072B2" stroke-width="1.3" stroke-opacity="1"/>
<line x1="237.4" y1="146.4" x2="237.4" y2="158.0" stroke="#0072B2" stroke-width="1.3" stroke-opacity="1"/>
<line x1="239.0" y1="149.5" x2="239.0" y2="161.1" stroke="#0072B2" stroke-width="1.3" stroke-opacity="1"/>
<line x1="240.5" y1="151.6" x2="240.5" y2="163.1" stroke="#0072B2" stroke-width="1.3" stroke-opacity="1"/>
<line x1="243.2" y1="145.4" x2="243.2" y2="156.9" stroke="#0072B2" stroke-width="1.3" stroke-opacity="1"/>
<line x1="244.2" y1="142.3" x2="244.2" y2="153.8" stroke="#0072B2" stroke-width="1.3" stroke-opacity="1"/>
<line x1="245.7" y1="148.5" x2="245.7" y2="160.0" stroke="#0072B2" stroke-width="1.3" stroke-opacity="1"/>
<line x1="246.7" y1="146.4" x2="246.7" y2="158.0" stroke="#0072B2" stroke-width="1.3" stroke-opacity="1"/>
<line x1="248.2" y1="151.6" x2="248.2" y2="163.1" stroke="#0072B2" stroke-width="1.3" stroke-opacity="1"/>
<line x1="251.5" y1="148.5" x2="251.5" y2="160.0" stroke="#0072B2" stroke-width="1.3" stroke-opacity="1"/>
<line x1="252.9" y1="151.6" x2="252.9" y2="163.1" stroke="#0072B2" stroke-width="1.3" stroke-opacity="1"/>
<line x1="256.0" y1="170.8" x2="256.0" y2="182.6" stroke="#0072B2" stroke-width="1.3" stroke-opacity="1"/>
<line x1="262.9" y1="149.5" x2="262.9" y2="161.1" stroke="#0072B2" stroke-width="1.3" stroke-opacity="1"/>
<line x1="275.3" y1="146.4" x2="275.3" y2="159.0" stroke="#0072B2" stroke-width="1.3" stroke-opacity="1"/>
<line x1="276.3" y1="140.2" x2="276.3" y2="151.7" stroke="#0072B2" stroke-width="1.3" stroke-opacity="1"/>
<line x1="281.5" y1="139.8" x2="281.5" y2="151.3" stroke="#0072B2" stroke-width="1.3" stroke-opacity="1"/>
<circle cx="53.5" cy="143.9" r="1.7" fill="#0072B2"/>
<circle cx="58.6" cy="161.5" r="1.7" fill="#0072B2"/>
<circle cx="67.3" cy="138.1" r="1.7" fill="#0072B2"/>
<circle cx="68.6" cy="136.6" r="1.7" fill="#0072B2"/>
<circle cx="70.4" cy="133.5" r="1.7" fill="#0072B2"/>
<circle cx="71.5" cy="149.1" r="1.7" fill="#0072B2"/>
<circle cx="76.2" cy="148.0" r="1.7" fill="#0072B2"/>
<circle cx="83.1" cy="154.2" r="1.7" fill="#0072B2"/>
<circle cx="85.6" cy="142.9" r="1.7" fill="#0072B2"/>
<circle cx="88.3" cy="149.1" r="1.7" fill="#0072B2"/>
<circle cx="93.9" cy="142.9" r="1.7" fill="#0072B2"/>
<circle cx="97.0" cy="141.8" r="1.7" fill="#0072B2"/>
<circle cx="101.7" cy="152.2" r="1.7" fill="#0072B2"/>
<circle cx="103.2" cy="150.7" r="1.7" fill="#0072B2"/>
<circle cx="104.8" cy="150.1" r="1.7" fill="#0072B2"/>
<circle cx="109.4" cy="133.5" r="1.7" fill="#0072B2"/>
<circle cx="110.0" cy="152.2" r="1.7" fill="#0072B2"/>
<circle cx="113.5" cy="137.7" r="1.7" fill="#0072B2"/>
<circle cx="113.5" cy="150.1" r="1.7" fill="#0072B2"/>
<circle cx="119.7" cy="150.1" r="1.7" fill="#0072B2"/>
<circle cx="126.0" cy="147.0" r="1.7" fill="#0072B2"/>
<circle cx="127.0" cy="141.8" r="1.7" fill="#0072B2"/>
<circle cx="128.6" cy="135.6" r="1.7" fill="#0072B2"/>
<circle cx="134.2" cy="144.9" r="1.7" fill="#0072B2"/>
<circle cx="135.3" cy="150.7" r="1.7" fill="#0072B2"/>
<circle cx="136.9" cy="153.2" r="1.7" fill="#0072B2"/>
<circle cx="139.0" cy="146.0" r="1.7" fill="#0072B2"/>
<circle cx="141.1" cy="150.1" r="1.7" fill="#0072B2"/>
<circle cx="143.1" cy="149.1" r="1.7" fill="#0072B2"/>
<circle cx="144.6" cy="144.9" r="1.7" fill="#0072B2"/>
<circle cx="146.7" cy="143.9" r="1.7" fill="#0072B2"/>
<circle cx="151.8" cy="153.2" r="1.7" fill="#0072B2"/>
<circle cx="153.5" cy="147.0" r="1.7" fill="#0072B2"/>
<circle cx="155.0" cy="149.1" r="1.7" fill="#0072B2"/>
<circle cx="157.0" cy="147.0" r="1.7" fill="#0072B2"/>
<circle cx="159.1" cy="148.0" r="1.7" fill="#0072B2"/>
<circle cx="160.8" cy="149.1" r="1.7" fill="#0072B2"/>
<circle cx="162.8" cy="150.1" r="1.7" fill="#0072B2"/>
<circle cx="169.7" cy="148.7" r="1.7" fill="#0072B2"/>
<circle cx="207.4" cy="149.1" r="1.7" fill="#0072B2"/>
<circle cx="208.0" cy="154.2" r="1.7" fill="#0072B2"/>
<circle cx="209.0" cy="151.1" r="1.7" fill="#0072B2"/>
<circle cx="210.5" cy="151.1" r="1.7" fill="#0072B2"/>
<circle cx="211.5" cy="155.3" r="1.7" fill="#0072B2"/>
<circle cx="214.0" cy="155.3" r="1.7" fill="#0072B2"/>
<circle cx="214.6" cy="172.3" r="1.7" fill="#0072B2"/>
<circle cx="219.4" cy="160.5" r="1.7" fill="#0072B2"/>
<circle cx="220.4" cy="152.2" r="1.7" fill="#0072B2"/>
<circle cx="221.9" cy="166.7" r="1.7" fill="#0072B2"/>
<circle cx="222.9" cy="162.5" r="1.7" fill="#0072B2"/>
<circle cx="224.3" cy="146.0" r="1.7" fill="#0072B2"/>
<circle cx="225.6" cy="151.1" r="1.7" fill="#0072B2"/>
<circle cx="226.0" cy="157.4" r="1.7" fill="#0072B2"/>
<circle cx="231.2" cy="155.3" r="1.7" fill="#0072B2"/>
<circle cx="232.2" cy="152.2" r="1.7" fill="#0072B2"/>
<circle cx="233.9" cy="156.3" r="1.7" fill="#0072B2"/>
<circle cx="235.3" cy="153.2" r="1.7" fill="#0072B2"/>
<circle cx="236.3" cy="165.6" r="1.7" fill="#0072B2"/>
<circle cx="237.4" cy="152.2" r="1.7" fill="#0072B2"/>
<circle cx="239.0" cy="155.3" r="1.7" fill="#0072B2"/>
<circle cx="240.5" cy="157.4" r="1.7" fill="#0072B2"/>
<circle cx="243.2" cy="151.1" r="1.7" fill="#0072B2"/>
<circle cx="244.2" cy="148.0" r="1.7" fill="#0072B2"/>
<circle cx="245.7" cy="154.2" r="1.7" fill="#0072B2"/>
<circle cx="246.7" cy="152.2" r="1.7" fill="#0072B2"/>
<circle cx="248.2" cy="157.4" r="1.7" fill="#0072B2"/>
<circle cx="251.5" cy="154.2" r="1.7" fill="#0072B2"/>
<circle cx="252.9" cy="157.4" r="1.7" fill="#0072B2"/>
<circle cx="256.0" cy="177.0" r="1.7" fill="#0072B2"/>
<circle cx="262.9" cy="154.9" r="1.7" fill="#0072B2"/>
<circle cx="275.3" cy="152.2" r="1.7" fill="#0072B2"/>
<circle cx="276.3" cy="146.0" r="1.7" fill="#0072B2"/>
<circle cx="281.5" cy="145.3" r="1.7" fill="#0072B2"/>
<rect x="39.6" y="143.0" width="255.60" height="15.80" fill="rgba(0,114,178,0.2)"/>
<line x1="39.6" y1="151.0" x2="295.2" y2="151.0" stroke="#0072B2" stroke-width="1.5" stroke-opacity="0.85" stroke-dasharray="3.55 1.71"/>
<line x1="74.36" y1="194.0" x2="74.36" y2="187.90" stroke="#262626" stroke-width="1.3"/>
<line x1="120.86" y1="194.0" x2="120.86" y2="187.90" stroke="#262626" stroke-width="1.3"/>
<line x1="167.36" y1="194.0" x2="167.36" y2="187.90" stroke="#262626" stroke-width="1.3"/>
<line x1="213.86" y1="194.0" x2="213.86" y2="187.90" stroke="#262626" stroke-width="1.3"/>
<line x1="260.36" y1="194.0" x2="260.36" y2="187.90" stroke="#262626" stroke-width="1.3"/>
<line x1="39.6" y1="126.50" x2="45.60" y2="126.50" stroke="#262626" stroke-width="1.3"/>
<line x1="39.6" y1="149.30" x2="45.60" y2="149.30" stroke="#262626" stroke-width="1.3"/>
<line x1="39.6" y1="172.10" x2="45.60" y2="172.10" stroke="#262626" stroke-width="1.3"/>
<rect x="39.6" y="105.0" width="255.60" height="89.00" fill="none" stroke="#262626" stroke-width="1.3"/>
<line x1="362.00" y1="105.0" x2="362.00" y2="194.0" stroke="#cccccc" stroke-width="1"/>
<line x1="408.50" y1="105.0" x2="408.50" y2="194.0" stroke="#cccccc" stroke-width="1"/>
<line x1="455.00" y1="105.0" x2="455.00" y2="194.0" stroke="#cccccc" stroke-width="1"/>
<line x1="501.50" y1="105.0" x2="501.50" y2="194.0" stroke="#cccccc" stroke-width="1"/>
<line x1="548.00" y1="105.0" x2="548.00" y2="194.0" stroke="#cccccc" stroke-width="1"/>
<line x1="327.1" y1="123.90" x2="582.9" y2="123.90" stroke="#cccccc" stroke-width="1"/>
<line x1="327.1" y1="149.30" x2="582.9" y2="149.30" stroke="#cccccc" stroke-width="1"/>
<line x1="327.1" y1="174.80" x2="582.9" y2="174.80" stroke="#cccccc" stroke-width="1"/>
<line x1="338.4" y1="123.8" x2="338.4" y2="144.7" stroke="#E49805" stroke-width="1.6" stroke-opacity="0.65"/>
<line x1="339.8" y1="136.8" x2="339.8" y2="151.9" stroke="#E49805" stroke-width="1.6" stroke-opacity="0.65"/>
<line x1="347.3" y1="116.5" x2="347.3" y2="133.3" stroke="#E49805" stroke-width="1.6" stroke-opacity="0.65"/>
<line x1="348.7" y1="143.5" x2="348.7" y2="154.0" stroke="#E49805" stroke-width="1.6" stroke-opacity="0.65"/>
<line x1="349.8" y1="139.3" x2="349.8" y2="153.0" stroke="#E49805" stroke-width="1.6" stroke-opacity="0.65"/>
<line x1="356.6" y1="133.1" x2="356.6" y2="153.0" stroke="#E49805" stroke-width="1.6" stroke-opacity="0.65"/>
<line x1="357.0" y1="143.5" x2="357.0" y2="164.3" stroke="#E49805" stroke-width="1.6" stroke-opacity="0.65"/>
<line x1="358.1" y1="137.3" x2="358.1" y2="154.0" stroke="#E49805" stroke-width="1.6" stroke-opacity="0.65"/>
<line x1="359.1" y1="145.5" x2="359.1" y2="159.2" stroke="#E49805" stroke-width="1.6" stroke-opacity="0.65"/>
<line x1="362.2" y1="120.7" x2="362.2" y2="142.6" stroke="#E49805" stroke-width="1.6" stroke-opacity="0.65"/>
<line x1="365.9" y1="141.4" x2="365.9" y2="151.9" stroke="#E49805" stroke-width="1.6" stroke-opacity="0.65"/>
<line x1="370.1" y1="149.7" x2="370.1" y2="161.7" stroke="#E49805" stroke-width="1.6" stroke-opacity="0.65"/>
<line x1="370.1" y1="129.0" x2="370.1" y2="139.5" stroke="#E49805" stroke-width="1.6" stroke-opacity="0.65"/>
<line x1="370.5" y1="129.0" x2="370.5" y2="150.5" stroke="#0072B2" stroke-width="1.3" stroke-opacity="1"/>
<line x1="373.2" y1="121.7" x2="373.2" y2="136.4" stroke="#E49805" stroke-width="1.6" stroke-opacity="0.65"/>
<line x1="375.1" y1="124.8" x2="375.1" y2="138.5" stroke="#E49805" stroke-width="1.6" stroke-opacity="0.65"/>
<line x1="376.7" y1="125.9" x2="376.7" y2="143.6" stroke="#0072B2" stroke-width="1.3" stroke-opacity="1"/>
<line x1="381.3" y1="122.8" x2="381.3" y2="143.6" stroke="#E49805" stroke-width="1.6" stroke-opacity="0.65"/>
<line x1="382.3" y1="133.1" x2="382.3" y2="147.8" stroke="#E49805" stroke-width="1.6" stroke-opacity="0.65"/>
<line x1="382.5" y1="137.3" x2="382.5" y2="151.9" stroke="#E49805" stroke-width="1.6" stroke-opacity="0.65"/>
<line x1="383.3" y1="121.7" x2="383.3" y2="140.5" stroke="#E49805" stroke-width="1.6" stroke-opacity="0.65"/>
<line x1="384.0" y1="129.0" x2="384.0" y2="141.6" stroke="#E49805" stroke-width="1.6" stroke-opacity="0.65"/>
<line x1="388.1" y1="127.9" x2="388.1" y2="143.6" stroke="#E49805" stroke-width="1.6" stroke-opacity="0.65"/>
<line x1="389.1" y1="126.9" x2="389.1" y2="139.5" stroke="#E49805" stroke-width="1.6" stroke-opacity="0.65"/>
<line x1="390.2" y1="121.7" x2="390.2" y2="137.4" stroke="#E49805" stroke-width="1.6" stroke-opacity="0.65"/>
<line x1="391.2" y1="129.0" x2="391.2" y2="140.5" stroke="#E49805" stroke-width="1.6" stroke-opacity="0.65"/>
<line x1="393.7" y1="118.6" x2="393.7" y2="134.3" stroke="#E49805" stroke-width="1.6" stroke-opacity="0.65"/>
<line x1="397.0" y1="114.5" x2="397.0" y2="131.2" stroke="#E49805" stroke-width="1.6" stroke-opacity="0.65"/>
<line x1="400.1" y1="147.6" x2="400.1" y2="157.1" stroke="#E49805" stroke-width="1.6" stroke-opacity="0.65"/>
<line x1="403.0" y1="118.6" x2="403.0" y2="133.3" stroke="#E49805" stroke-width="1.6" stroke-opacity="0.65"/>
<line x1="404.0" y1="130.0" x2="404.0" y2="141.6" stroke="#E49805" stroke-width="1.6" stroke-opacity="0.65"/>
<line x1="406.7" y1="135.2" x2="406.7" y2="147.8" stroke="#E49805" stroke-width="1.6" stroke-opacity="0.65"/>
<line x1="406.7" y1="143.5" x2="406.7" y2="160.2" stroke="#0072B2" stroke-width="1.3" stroke-opacity="1"/>
<line x1="410.9" y1="132.1" x2="410.9" y2="157.1" stroke="#0072B2" stroke-width="1.3" stroke-opacity="1"/>
<line x1="417.5" y1="122.8" x2="417.5" y2="133.3" stroke="#E49805" stroke-width="1.6" stroke-opacity="0.65"/>
<line x1="418.5" y1="127.9" x2="418.5" y2="147.8" stroke="#E49805" stroke-width="1.6" stroke-opacity="0.65"/>
<line x1="419.8" y1="129.0" x2="419.8" y2="142.6" stroke="#E49805" stroke-width="1.6" stroke-opacity="0.65"/>
<line x1="421.2" y1="116.5" x2="421.2" y2="134.3" stroke="#E49805" stroke-width="1.6" stroke-opacity="0.65"/>
<line x1="427.5" y1="123.8" x2="427.5" y2="133.3" stroke="#E49805" stroke-width="1.6" stroke-opacity="0.65"/>
<line x1="435.7" y1="138.3" x2="435.7" y2="151.9" stroke="#E49805" stroke-width="1.6" stroke-opacity="0.65"/>
<line x1="436.4" y1="133.1" x2="436.4" y2="144.7" stroke="#E49805" stroke-width="1.6" stroke-opacity="0.65"/>
<line x1="436.4" y1="131.0" x2="436.4" y2="144.7" stroke="#0072B2" stroke-width="1.3" stroke-opacity="1"/>
<line x1="446.7" y1="135.2" x2="446.7" y2="146.7" stroke="#0072B2" stroke-width="1.3" stroke-opacity="1"/>
<line x1="468.9" y1="138.3" x2="468.9" y2="149.8" stroke="#0072B2" stroke-width="1.3" stroke-opacity="1"/>
<line x1="477.8" y1="138.3" x2="477.8" y2="149.8" stroke="#0072B2" stroke-width="1.3" stroke-opacity="1"/>
<line x1="480.3" y1="134.1" x2="480.3" y2="146.7" stroke="#0072B2" stroke-width="1.3" stroke-opacity="1"/>
<line x1="482.5" y1="137.3" x2="482.5" y2="149.8" stroke="#0072B2" stroke-width="1.3" stroke-opacity="1"/>
<line x1="484.0" y1="133.1" x2="484.0" y2="145.7" stroke="#0072B2" stroke-width="1.3" stroke-opacity="1"/>
<line x1="485.0" y1="135.2" x2="485.0" y2="147.8" stroke="#0072B2" stroke-width="1.3" stroke-opacity="1"/>
<line x1="486.1" y1="135.2" x2="486.1" y2="146.7" stroke="#0072B2" stroke-width="1.3" stroke-opacity="1"/>
<line x1="488.6" y1="143.5" x2="488.6" y2="155.0" stroke="#0072B2" stroke-width="1.3" stroke-opacity="1"/>
<line x1="491.2" y1="135.2" x2="491.2" y2="146.7" stroke="#0072B2" stroke-width="1.3" stroke-opacity="1"/>
<line x1="491.9" y1="141.4" x2="491.9" y2="157.1" stroke="#0072B2" stroke-width="1.3" stroke-opacity="1"/>
<line x1="497.9" y1="139.3" x2="497.9" y2="153.0" stroke="#0072B2" stroke-width="1.3" stroke-opacity="1"/>
<line x1="498.5" y1="134.1" x2="498.5" y2="146.7" stroke="#0072B2" stroke-width="1.3" stroke-opacity="1"/>
<line x1="499.5" y1="137.3" x2="499.5" y2="153.0" stroke="#0072B2" stroke-width="1.3" stroke-opacity="1"/>
<line x1="500.6" y1="135.2" x2="500.6" y2="148.8" stroke="#0072B2" stroke-width="1.3" stroke-opacity="1"/>
<line x1="502.2" y1="132.1" x2="502.2" y2="145.7" stroke="#0072B2" stroke-width="1.3" stroke-opacity="1"/>
<line x1="507.4" y1="136.2" x2="507.4" y2="147.8" stroke="#0072B2" stroke-width="1.3" stroke-opacity="1"/>
<line x1="509.9" y1="144.5" x2="509.9" y2="157.5" stroke="#E49805" stroke-width="1.6" stroke-opacity="0.65"/>
<line x1="516.7" y1="135.2" x2="516.7" y2="147.8" stroke="#0072B2" stroke-width="1.3" stroke-opacity="1"/>
<line x1="517.1" y1="140.4" x2="517.1" y2="154.0" stroke="#0072B2" stroke-width="1.3" stroke-opacity="1"/>
<line x1="520.9" y1="135.2" x2="520.9" y2="151.9" stroke="#0072B2" stroke-width="1.3" stroke-opacity="1"/>
<line x1="521.9" y1="133.1" x2="521.9" y2="145.7" stroke="#0072B2" stroke-width="1.3" stroke-opacity="1"/>
<line x1="533.1" y1="132.1" x2="533.1" y2="146.7" stroke="#0072B2" stroke-width="1.3" stroke-opacity="1"/>
<line x1="540.3" y1="112.4" x2="540.3" y2="133.3" stroke="#0072B2" stroke-width="1.3" stroke-opacity="1"/>
<line x1="545.5" y1="118.6" x2="545.5" y2="138.5" stroke="#0072B2" stroke-width="1.3" stroke-opacity="1"/>
<line x1="553.0" y1="129.0" x2="553.0" y2="148.8" stroke="#0072B2" stroke-width="1.3" stroke-opacity="1"/>
<circle cx="338.4" cy="136.4" r="1.35" fill="#E49805"/>
<circle cx="339.8" cy="143.0" r="1.35" fill="#E49805"/>
<circle cx="347.3" cy="124.4" r="1.35" fill="#E49805"/>
<circle cx="348.7" cy="148.6" r="1.35" fill="#E49805"/>
<circle cx="349.8" cy="146.1" r="1.35" fill="#E49805"/>
<circle cx="356.6" cy="143.7" r="1.35" fill="#E49805"/>
<circle cx="357.0" cy="152.4" r="1.35" fill="#E49805"/>
<circle cx="358.1" cy="146.1" r="1.35" fill="#E49805"/>
<circle cx="359.1" cy="151.3" r="1.35" fill="#E49805"/>
<circle cx="362.2" cy="133.7" r="1.35" fill="#E49805"/>
<circle cx="365.9" cy="146.1" r="1.35" fill="#E49805"/>
<circle cx="370.1" cy="156.1" r="1.35" fill="#E49805"/>
<circle cx="370.1" cy="133.7" r="1.35" fill="#E49805"/>
<circle cx="370.5" cy="139.5" r="1.7" fill="#0072B2"/>
<circle cx="373.2" cy="130.6" r="1.35" fill="#E49805"/>
<circle cx="375.1" cy="131.6" r="1.35" fill="#E49805"/>
<circle cx="376.7" cy="134.7" r="1.7" fill="#0072B2"/>
<circle cx="381.3" cy="135.8" r="1.35" fill="#E49805"/>
<circle cx="382.3" cy="139.9" r="1.35" fill="#E49805"/>
<circle cx="382.5" cy="144.1" r="1.35" fill="#E49805"/>
<circle cx="383.3" cy="133.7" r="1.35" fill="#E49805"/>
<circle cx="384.0" cy="134.7" r="1.35" fill="#E49805"/>
<circle cx="388.1" cy="135.4" r="1.35" fill="#E49805"/>
<circle cx="389.1" cy="132.7" r="1.35" fill="#E49805"/>
<circle cx="390.2" cy="131.2" r="1.35" fill="#E49805"/>
<circle cx="391.2" cy="134.7" r="1.35" fill="#E49805"/>
<circle cx="393.7" cy="128.5" r="1.35" fill="#E49805"/>
<circle cx="397.0" cy="123.4" r="1.35" fill="#E49805"/>
<circle cx="400.1" cy="152.4" r="1.35" fill="#E49805"/>
<circle cx="403.0" cy="125.4" r="1.35" fill="#E49805"/>
<circle cx="404.0" cy="135.4" r="1.35" fill="#E49805"/>
<circle cx="406.7" cy="141.0" r="1.35" fill="#E49805"/>
<circle cx="406.7" cy="152.4" r="1.7" fill="#0072B2"/>
<circle cx="410.9" cy="144.1" r="1.7" fill="#0072B2"/>
<circle cx="417.5" cy="127.9" r="1.35" fill="#E49805"/>
<circle cx="418.5" cy="136.8" r="1.35" fill="#E49805"/>
<circle cx="419.8" cy="135.8" r="1.35" fill="#E49805"/>
<circle cx="421.2" cy="128.5" r="1.35" fill="#E49805"/>
<circle cx="427.5" cy="128.1" r="1.35" fill="#E49805"/>
<circle cx="435.7" cy="145.1" r="1.35" fill="#E49805"/>
<circle cx="436.4" cy="138.9" r="1.35" fill="#E49805"/>
<circle cx="436.4" cy="137.4" r="1.7" fill="#0072B2"/>
<circle cx="446.7" cy="141.0" r="1.7" fill="#0072B2"/>
<circle cx="468.9" cy="144.1" r="1.7" fill="#0072B2"/>
<circle cx="477.8" cy="144.1" r="1.7" fill="#0072B2"/>
<circle cx="480.3" cy="141.0" r="1.7" fill="#0072B2"/>
<circle cx="482.5" cy="143.0" r="1.7" fill="#0072B2"/>
<circle cx="484.0" cy="138.9" r="1.7" fill="#0072B2"/>
<circle cx="485.0" cy="142.0" r="1.7" fill="#0072B2"/>
<circle cx="486.1" cy="141.0" r="1.7" fill="#0072B2"/>
<circle cx="488.6" cy="149.2" r="1.7" fill="#0072B2"/>
<circle cx="491.2" cy="141.0" r="1.7" fill="#0072B2"/>
<circle cx="491.9" cy="148.2" r="1.7" fill="#0072B2"/>
<circle cx="497.9" cy="146.1" r="1.7" fill="#0072B2"/>
<circle cx="498.5" cy="139.9" r="1.7" fill="#0072B2"/>
<circle cx="499.5" cy="144.1" r="1.7" fill="#0072B2"/>
<circle cx="500.6" cy="142.0" r="1.7" fill="#0072B2"/>
<circle cx="502.2" cy="138.9" r="1.7" fill="#0072B2"/>
<circle cx="507.4" cy="142.0" r="1.7" fill="#0072B2"/>
<circle cx="509.9" cy="150.3" r="1.35" fill="#E49805"/>
<circle cx="516.7" cy="141.0" r="1.7" fill="#0072B2"/>
<circle cx="517.1" cy="146.1" r="1.7" fill="#0072B2"/>
<circle cx="520.9" cy="142.4" r="1.7" fill="#0072B2"/>
<circle cx="521.9" cy="138.9" r="1.7" fill="#0072B2"/>
<circle cx="533.1" cy="138.9" r="1.7" fill="#0072B2"/>
<circle cx="540.3" cy="121.3" r="1.7" fill="#0072B2"/>
<circle cx="545.5" cy="128.5" r="1.7" fill="#0072B2"/>
<circle cx="553.0" cy="138.9" r="1.7" fill="#0072B2"/>
<rect x="327.1" y="137.6" width="255.80" height="9.00" fill="rgba(0,114,178,0.2)"/>
<line x1="327.1" y1="142.3" x2="582.9" y2="142.3" stroke="#0072B2" stroke-width="1.5" stroke-opacity="0.85" stroke-dasharray="3.55 1.71"/>
<line x1="362.00" y1="194.0" x2="362.00" y2="187.90" stroke="#262626" stroke-width="1.3"/>
<line x1="408.50" y1="194.0" x2="408.50" y2="187.90" stroke="#262626" stroke-width="1.3"/>
<line x1="455.00" y1="194.0" x2="455.00" y2="187.90" stroke="#262626" stroke-width="1.3"/>
<line x1="501.50" y1="194.0" x2="501.50" y2="187.90" stroke="#262626" stroke-width="1.3"/>
<line x1="548.00" y1="194.0" x2="548.00" y2="187.90" stroke="#262626" stroke-width="1.3"/>
<line x1="327.1" y1="123.90" x2="333.10" y2="123.90" stroke="#262626" stroke-width="1.3"/>
<line x1="327.1" y1="149.30" x2="333.10" y2="149.30" stroke="#262626" stroke-width="1.3"/>
<line x1="327.1" y1="174.80" x2="333.10" y2="174.80" stroke="#262626" stroke-width="1.3"/>
<rect x="327.1" y="105.0" width="255.80" height="89.00" fill="none" stroke="#262626" stroke-width="1.3"/>
<line x1="74.36" y1="194.0" x2="74.36" y2="282.9" stroke="#cccccc" stroke-width="1"/>
<line x1="120.86" y1="194.0" x2="120.86" y2="282.9" stroke="#cccccc" stroke-width="1"/>
<line x1="167.36" y1="194.0" x2="167.36" y2="282.9" stroke="#cccccc" stroke-width="1"/>
<line x1="213.86" y1="194.0" x2="213.86" y2="282.9" stroke="#cccccc" stroke-width="1"/>
<line x1="260.36" y1="194.0" x2="260.36" y2="282.9" stroke="#cccccc" stroke-width="1"/>
<line x1="39.6" y1="215.50" x2="295.2" y2="215.50" stroke="#cccccc" stroke-width="1"/>
<line x1="39.6" y1="238.40" x2="295.2" y2="238.40" stroke="#cccccc" stroke-width="1"/>
<line x1="39.6" y1="261.30" x2="295.2" y2="261.30" stroke="#cccccc" stroke-width="1"/>
<line x1="51.4" y1="248.8" x2="51.4" y2="264.1" stroke="#0072B2" stroke-width="1.3" stroke-opacity="1"/>
<line x1="60.1" y1="243.6" x2="60.1" y2="258.3" stroke="#0072B2" stroke-width="1.3" stroke-opacity="1"/>
<line x1="64.4" y1="227.7" x2="64.4" y2="240.7" stroke="#0072B2" stroke-width="1.3" stroke-opacity="1"/>
<line x1="67.5" y1="238.5" x2="67.5" y2="252.1" stroke="#0072B2" stroke-width="1.3" stroke-opacity="1"/>
<line x1="68.4" y1="231.8" x2="68.4" y2="245.9" stroke="#0072B2" stroke-width="1.3" stroke-opacity="1"/>
<line x1="69.4" y1="235.4" x2="69.4" y2="249.0" stroke="#0072B2" stroke-width="1.3" stroke-opacity="1"/>
<line x1="71.1" y1="236.4" x2="71.1" y2="248.0" stroke="#0072B2" stroke-width="1.3" stroke-opacity="1"/>
<line x1="72.1" y1="234.3" x2="72.1" y2="245.9" stroke="#0072B2" stroke-width="1.3" stroke-opacity="1"/>
<line x1="77.3" y1="229.8" x2="77.3" y2="241.7" stroke="#0072B2" stroke-width="1.3" stroke-opacity="1"/>
<line x1="82.5" y1="233.3" x2="82.5" y2="245.9" stroke="#0072B2" stroke-width="1.3" stroke-opacity="1"/>
<line x1="89.3" y1="229.8" x2="89.3" y2="244.8" stroke="#0072B2" stroke-width="1.3" stroke-opacity="1"/>
<line x1="90.7" y1="243.6" x2="90.7" y2="268.7" stroke="#0072B2" stroke-width="1.3" stroke-opacity="1"/>
<line x1="91.8" y1="231.2" x2="91.8" y2="243.8" stroke="#0072B2" stroke-width="1.3" stroke-opacity="1"/>
<line x1="93.2" y1="231.2" x2="93.2" y2="244.8" stroke="#0072B2" stroke-width="1.3" stroke-opacity="1"/>
<line x1="99.7" y1="239.5" x2="99.7" y2="251.1" stroke="#0072B2" stroke-width="1.3" stroke-opacity="1"/>
<line x1="102.1" y1="233.3" x2="102.1" y2="244.8" stroke="#0072B2" stroke-width="1.3" stroke-opacity="1"/>
<line x1="102.6" y1="239.5" x2="102.6" y2="252.1" stroke="#0072B2" stroke-width="1.3" stroke-opacity="1"/>
<line x1="102.8" y1="227.1" x2="102.8" y2="239.3" stroke="#0072B2" stroke-width="1.3" stroke-opacity="1"/>
<line x1="102.8" y1="217.8" x2="102.8" y2="230.3" stroke="#0072B2" stroke-width="1.3" stroke-opacity="1"/>
<line x1="104.6" y1="221.9" x2="104.6" y2="234.5" stroke="#0072B2" stroke-width="1.3" stroke-opacity="1"/>
<line x1="105.9" y1="222.3" x2="105.9" y2="235.1" stroke="#0072B2" stroke-width="1.3" stroke-opacity="1"/>
<line x1="107.7" y1="229.8" x2="107.7" y2="242.8" stroke="#0072B2" stroke-width="1.3" stroke-opacity="1"/>
<line x1="115.0" y1="241.6" x2="115.0" y2="255.8" stroke="#0072B2" stroke-width="1.3" stroke-opacity="1"/>
<line x1="121.8" y1="221.9" x2="121.8" y2="235.1" stroke="#0072B2" stroke-width="1.3" stroke-opacity="1"/>
<line x1="122.4" y1="231.8" x2="122.4" y2="244.8" stroke="#0072B2" stroke-width="1.3" stroke-opacity="1"/>
<line x1="123.5" y1="227.1" x2="123.5" y2="239.3" stroke="#0072B2" stroke-width="1.3" stroke-opacity="1"/>
<line x1="124.5" y1="232.3" x2="124.5" y2="245.9" stroke="#0072B2" stroke-width="1.3" stroke-opacity="1"/>
<line x1="128.0" y1="221.9" x2="128.0" y2="235.1" stroke="#0072B2" stroke-width="1.3" stroke-opacity="1"/>
<line x1="129.1" y1="229.1" x2="129.1" y2="241.3" stroke="#0072B2" stroke-width="1.3" stroke-opacity="1"/>
<line x1="129.5" y1="233.3" x2="129.5" y2="244.8" stroke="#0072B2" stroke-width="1.3" stroke-opacity="1"/>
<line x1="134.2" y1="227.7" x2="134.2" y2="240.7" stroke="#0072B2" stroke-width="1.3" stroke-opacity="1"/>
<line x1="135.3" y1="220.9" x2="135.3" y2="233.9" stroke="#0072B2" stroke-width="1.3" stroke-opacity="1"/>
<line x1="136.9" y1="228.1" x2="136.9" y2="239.7" stroke="#0072B2" stroke-width="1.3" stroke-opacity="1"/>
<line x1="141.5" y1="237.4" x2="141.5" y2="250.0" stroke="#0072B2" stroke-width="1.3" stroke-opacity="1"/>
<line x1="147.3" y1="227.1" x2="147.3" y2="239.7" stroke="#0072B2" stroke-width="1.3" stroke-opacity="1"/>
<line x1="150.8" y1="234.3" x2="150.8" y2="246.9" stroke="#0072B2" stroke-width="1.3" stroke-opacity="1"/>
<line x1="152.3" y1="229.8" x2="152.3" y2="241.7" stroke="#0072B2" stroke-width="1.3" stroke-opacity="1"/>
<line x1="159.1" y1="228.1" x2="159.1" y2="239.7" stroke="#0072B2" stroke-width="1.3" stroke-opacity="1"/>
<line x1="159.7" y1="234.3" x2="159.7" y2="248.0" stroke="#0072B2" stroke-width="1.3" stroke-opacity="1"/>
<line x1="199.7" y1="236.4" x2="199.7" y2="250.0" stroke="#0072B2" stroke-width="1.3" stroke-opacity="1"/>
<line x1="203.2" y1="225.0" x2="203.2" y2="237.6" stroke="#0072B2" stroke-width="1.3" stroke-opacity="1"/>
<line x1="203.6" y1="230.2" x2="203.6" y2="242.8" stroke="#0072B2" stroke-width="1.3" stroke-opacity="1"/>
<line x1="210.5" y1="248.8" x2="210.5" y2="263.5" stroke="#0072B2" stroke-width="1.3" stroke-opacity="1"/>
<line x1="213.2" y1="230.2" x2="213.2" y2="243.8" stroke="#0072B2" stroke-width="1.3" stroke-opacity="1"/>
<line x1="215.2" y1="228.1" x2="215.2" y2="241.7" stroke="#0072B2" stroke-width="1.3" stroke-opacity="1"/>
<line x1="216.7" y1="233.3" x2="216.7" y2="246.9" stroke="#0072B2" stroke-width="1.3" stroke-opacity="1"/>
<line x1="218.3" y1="230.2" x2="218.3" y2="243.8" stroke="#0072B2" stroke-width="1.3" stroke-opacity="1"/>
<line x1="219.4" y1="234.3" x2="219.4" y2="248.0" stroke="#0072B2" stroke-width="1.3" stroke-opacity="1"/>
<line x1="220.8" y1="226.0" x2="220.8" y2="239.7" stroke="#0072B2" stroke-width="1.3" stroke-opacity="1"/>
<line x1="221.4" y1="241.6" x2="221.4" y2="254.6" stroke="#0072B2" stroke-width="1.3" stroke-opacity="1"/>
<line x1="222.5" y1="228.1" x2="222.5" y2="242.8" stroke="#0072B2" stroke-width="1.3" stroke-opacity="1"/>
<line x1="223.5" y1="222.9" x2="223.5" y2="236.6" stroke="#0072B2" stroke-width="1.3" stroke-opacity="1"/>
<line x1="224.3" y1="231.2" x2="224.3" y2="244.8" stroke="#0072B2" stroke-width="1.3" stroke-opacity="1"/>
<line x1="225.6" y1="228.1" x2="225.6" y2="241.7" stroke="#0072B2" stroke-width="1.3" stroke-opacity="1"/>
<line x1="227.0" y1="223.6" x2="227.0" y2="235.5" stroke="#0072B2" stroke-width="1.3" stroke-opacity="1"/>
<line x1="233.2" y1="232.3" x2="233.2" y2="245.9" stroke="#0072B2" stroke-width="1.3" stroke-opacity="1"/>
<line x1="234.3" y1="228.1" x2="234.3" y2="241.7" stroke="#0072B2" stroke-width="1.3" stroke-opacity="1"/>
<line x1="235.3" y1="225.0" x2="235.3" y2="238.6" stroke="#0072B2" stroke-width="1.3" stroke-opacity="1"/>
<line x1="235.9" y1="233.3" x2="235.9" y2="246.9" stroke="#0072B2" stroke-width="1.3" stroke-opacity="1"/>
<line x1="236.3" y1="245.7" x2="236.3" y2="260.0" stroke="#0072B2" stroke-width="1.3" stroke-opacity="1"/>
<line x1="237.4" y1="229.1" x2="237.4" y2="242.8" stroke="#0072B2" stroke-width="1.3" stroke-opacity="1"/>
<line x1="240.1" y1="222.9" x2="240.1" y2="235.5" stroke="#0072B2" stroke-width="1.3" stroke-opacity="1"/>
<line x1="241.5" y1="222.9" x2="241.5" y2="236.6" stroke="#0072B2" stroke-width="1.3" stroke-opacity="1"/>
<line x1="242.6" y1="237.4" x2="242.6" y2="251.1" stroke="#0072B2" stroke-width="1.3" stroke-opacity="1"/>
<line x1="244.2" y1="226.5" x2="244.2" y2="239.7" stroke="#0072B2" stroke-width="1.3" stroke-opacity="1"/>
<line x1="246.3" y1="228.1" x2="246.3" y2="241.7" stroke="#0072B2" stroke-width="1.3" stroke-opacity="1"/>
<line x1="247.7" y1="227.1" x2="247.7" y2="239.7" stroke="#0072B2" stroke-width="1.3" stroke-opacity="1"/>
<line x1="249.4" y1="229.1" x2="249.4" y2="242.8" stroke="#0072B2" stroke-width="1.3" stroke-opacity="1"/>
<line x1="250.8" y1="228.1" x2="250.8" y2="241.7" stroke="#0072B2" stroke-width="1.3" stroke-opacity="1"/>
<line x1="251.9" y1="229.1" x2="251.9" y2="242.8" stroke="#0072B2" stroke-width="1.3" stroke-opacity="1"/>
<line x1="255.0" y1="226.0" x2="255.0" y2="239.7" stroke="#0072B2" stroke-width="1.3" stroke-opacity="1"/>
<line x1="266.8" y1="235.4" x2="266.8" y2="251.1" stroke="#0072B2" stroke-width="1.3" stroke-opacity="1"/>
<line x1="276.3" y1="228.1" x2="276.3" y2="243.8" stroke="#0072B2" stroke-width="1.3" stroke-opacity="1"/>
<circle cx="51.4" cy="256.3" r="1.7" fill="#0072B2"/>
<circle cx="60.1" cy="250.5" r="1.7" fill="#0072B2"/>
<circle cx="64.4" cy="234.5" r="1.7" fill="#0072B2"/>
<circle cx="67.5" cy="244.2" r="1.7" fill="#0072B2"/>
<circle cx="68.4" cy="239.1" r="1.7" fill="#0072B2"/>
<circle cx="69.4" cy="241.1" r="1.7" fill="#0072B2"/>
<circle cx="71.1" cy="242.2" r="1.7" fill="#0072B2"/>
<circle cx="72.1" cy="240.1" r="1.7" fill="#0072B2"/>
<circle cx="77.3" cy="236.0" r="1.7" fill="#0072B2"/>
<circle cx="82.5" cy="239.1" r="1.7" fill="#0072B2"/>
<circle cx="89.3" cy="237.0" r="1.7" fill="#0072B2"/>
<circle cx="90.7" cy="256.1" r="1.7" fill="#0072B2"/>
<circle cx="91.8" cy="237.0" r="1.7" fill="#0072B2"/>
<circle cx="93.2" cy="238.0" r="1.7" fill="#0072B2"/>
<circle cx="99.7" cy="244.9" r="1.7" fill="#0072B2"/>
<circle cx="102.1" cy="239.1" r="1.7" fill="#0072B2"/>
<circle cx="102.6" cy="245.7" r="1.7" fill="#0072B2"/>
<circle cx="102.8" cy="232.9" r="1.7" fill="#0072B2"/>
<circle cx="102.8" cy="224.6" r="1.7" fill="#0072B2"/>
<circle cx="104.6" cy="227.7" r="1.7" fill="#0072B2"/>
<circle cx="105.9" cy="228.7" r="1.7" fill="#0072B2"/>
<circle cx="107.7" cy="236.0" r="1.7" fill="#0072B2"/>
<circle cx="115.0" cy="248.4" r="1.7" fill="#0072B2"/>
<circle cx="121.8" cy="228.7" r="1.7" fill="#0072B2"/>
<circle cx="122.4" cy="238.0" r="1.7" fill="#0072B2"/>
<circle cx="123.5" cy="232.9" r="1.7" fill="#0072B2"/>
<circle cx="124.5" cy="239.1" r="1.7" fill="#0072B2"/>
<circle cx="128.0" cy="228.7" r="1.7" fill="#0072B2"/>
<circle cx="129.1" cy="234.9" r="1.7" fill="#0072B2"/>
<circle cx="129.5" cy="239.1" r="1.7" fill="#0072B2"/>
<circle cx="134.2" cy="233.9" r="1.7" fill="#0072B2"/>
<circle cx="135.3" cy="227.7" r="1.7" fill="#0072B2"/>
<circle cx="136.9" cy="233.9" r="1.7" fill="#0072B2"/>
<circle cx="141.5" cy="243.2" r="1.7" fill="#0072B2"/>
<circle cx="147.3" cy="233.9" r="1.7" fill="#0072B2"/>
<circle cx="150.8" cy="240.1" r="1.7" fill="#0072B2"/>
<circle cx="152.3" cy="236.0" r="1.7" fill="#0072B2"/>
<circle cx="159.1" cy="233.9" r="1.7" fill="#0072B2"/>
<circle cx="159.7" cy="240.7" r="1.7" fill="#0072B2"/>
<circle cx="199.7" cy="242.8" r="1.7" fill="#0072B2"/>
<circle cx="203.2" cy="231.8" r="1.7" fill="#0072B2"/>
<circle cx="203.6" cy="236.0" r="1.7" fill="#0072B2"/>
<circle cx="210.5" cy="256.1" r="1.7" fill="#0072B2"/>
<circle cx="213.2" cy="237.0" r="1.7" fill="#0072B2"/>
<circle cx="215.2" cy="234.9" r="1.7" fill="#0072B2"/>
<circle cx="216.7" cy="240.1" r="1.7" fill="#0072B2"/>
<circle cx="218.3" cy="237.0" r="1.7" fill="#0072B2"/>
<circle cx="219.4" cy="241.1" r="1.7" fill="#0072B2"/>
<circle cx="220.8" cy="232.9" r="1.7" fill="#0072B2"/>
<circle cx="221.4" cy="247.4" r="1.7" fill="#0072B2"/>
<circle cx="222.5" cy="236.0" r="1.7" fill="#0072B2"/>
<circle cx="223.5" cy="229.7" r="1.7" fill="#0072B2"/>
<circle cx="224.3" cy="238.0" r="1.7" fill="#0072B2"/>
<circle cx="225.6" cy="234.9" r="1.7" fill="#0072B2"/>
<circle cx="227.0" cy="229.7" r="1.7" fill="#0072B2"/>
<circle cx="233.2" cy="239.1" r="1.7" fill="#0072B2"/>
<circle cx="234.3" cy="234.9" r="1.7" fill="#0072B2"/>
<circle cx="235.3" cy="231.8" r="1.7" fill="#0072B2"/>
<circle cx="235.9" cy="240.1" r="1.7" fill="#0072B2"/>
<circle cx="236.3" cy="252.5" r="1.7" fill="#0072B2"/>
<circle cx="237.4" cy="236.0" r="1.7" fill="#0072B2"/>
<circle cx="240.1" cy="229.7" r="1.7" fill="#0072B2"/>
<circle cx="241.5" cy="229.7" r="1.7" fill="#0072B2"/>
<circle cx="242.6" cy="243.2" r="1.7" fill="#0072B2"/>
<circle cx="244.2" cy="232.9" r="1.7" fill="#0072B2"/>
<circle cx="246.3" cy="234.9" r="1.7" fill="#0072B2"/>
<circle cx="247.7" cy="232.9" r="1.7" fill="#0072B2"/>
<circle cx="249.4" cy="236.0" r="1.7" fill="#0072B2"/>
<circle cx="250.8" cy="234.9" r="1.7" fill="#0072B2"/>
<circle cx="251.9" cy="236.0" r="1.7" fill="#0072B2"/>
<circle cx="255.0" cy="232.9" r="1.7" fill="#0072B2"/>
<circle cx="266.8" cy="242.2" r="1.7" fill="#0072B2"/>
<circle cx="276.3" cy="235.5" r="1.7" fill="#0072B2"/>
<rect x="39.6" y="231.3" width="255.60" height="12.30" fill="rgba(0,114,178,0.2)"/>
<line x1="39.6" y1="237.4" x2="295.2" y2="237.4" stroke="#0072B2" stroke-width="1.5" stroke-opacity="0.85" stroke-dasharray="3.55 1.71"/>
<line x1="74.36" y1="282.9" x2="74.36" y2="276.80" stroke="#262626" stroke-width="1.3"/>
<line x1="120.86" y1="282.9" x2="120.86" y2="276.80" stroke="#262626" stroke-width="1.3"/>
<line x1="167.36" y1="282.9" x2="167.36" y2="276.80" stroke="#262626" stroke-width="1.3"/>
<line x1="213.86" y1="282.9" x2="213.86" y2="276.80" stroke="#262626" stroke-width="1.3"/>
<line x1="260.36" y1="282.9" x2="260.36" y2="276.80" stroke="#262626" stroke-width="1.3"/>
<line x1="39.6" y1="215.50" x2="45.60" y2="215.50" stroke="#262626" stroke-width="1.3"/>
<line x1="39.6" y1="238.40" x2="45.60" y2="238.40" stroke="#262626" stroke-width="1.3"/>
<line x1="39.6" y1="261.30" x2="45.60" y2="261.30" stroke="#262626" stroke-width="1.3"/>
<rect x="39.6" y="194.0" width="255.60" height="88.90" fill="none" stroke="#262626" stroke-width="1.3"/>
<line x1="362.00" y1="194.0" x2="362.00" y2="282.9" stroke="#cccccc" stroke-width="1"/>
<line x1="408.50" y1="194.0" x2="408.50" y2="282.9" stroke="#cccccc" stroke-width="1"/>
<line x1="455.00" y1="194.0" x2="455.00" y2="282.9" stroke="#cccccc" stroke-width="1"/>
<line x1="501.50" y1="194.0" x2="501.50" y2="282.9" stroke="#cccccc" stroke-width="1"/>
<line x1="548.00" y1="194.0" x2="548.00" y2="282.9" stroke="#cccccc" stroke-width="1"/>
<line x1="327.1" y1="212.90" x2="582.9" y2="212.90" stroke="#cccccc" stroke-width="1"/>
<line x1="327.1" y1="238.30" x2="582.9" y2="238.30" stroke="#cccccc" stroke-width="1"/>
<line x1="327.1" y1="263.80" x2="582.9" y2="263.80" stroke="#cccccc" stroke-width="1"/>
<line x1="338.8" y1="241.8" x2="338.8" y2="251.2" stroke="#E49805" stroke-width="1.6" stroke-opacity="0.65"/>
<line x1="346.3" y1="213.8" x2="346.3" y2="229.5" stroke="#E49805" stroke-width="1.6" stroke-opacity="0.65"/>
<line x1="349.2" y1="237.6" x2="349.2" y2="250.2" stroke="#E49805" stroke-width="1.6" stroke-opacity="0.65"/>
<line x1="350.2" y1="236.6" x2="350.2" y2="249.2" stroke="#E49805" stroke-width="1.6" stroke-opacity="0.65"/>
<line x1="356.0" y1="229.3" x2="356.0" y2="244.0" stroke="#E49805" stroke-width="1.6" stroke-opacity="0.65"/>
<line x1="356.4" y1="239.7" x2="356.4" y2="255.4" stroke="#E49805" stroke-width="1.6" stroke-opacity="0.65"/>
<line x1="356.4" y1="243.8" x2="356.4" y2="256.4" stroke="#E49805" stroke-width="1.6" stroke-opacity="0.65"/>
<line x1="360.6" y1="228.3" x2="360.6" y2="243.0" stroke="#E49805" stroke-width="1.6" stroke-opacity="0.65"/>
<line x1="361.2" y1="231.4" x2="361.2" y2="245.0" stroke="#E49805" stroke-width="1.6" stroke-opacity="0.65"/>
<line x1="365.3" y1="228.3" x2="365.3" y2="240.9" stroke="#E49805" stroke-width="1.6" stroke-opacity="0.65"/>
<line x1="367.8" y1="226.2" x2="367.8" y2="239.8" stroke="#E49805" stroke-width="1.6" stroke-opacity="0.65"/>
<line x1="369.5" y1="228.3" x2="369.5" y2="244.0" stroke="#0072B2" stroke-width="1.3" stroke-opacity="1"/>
<line x1="370.1" y1="238.6" x2="370.1" y2="248.1" stroke="#E49805" stroke-width="1.6" stroke-opacity="0.65"/>
<line x1="372.2" y1="215.9" x2="372.2" y2="229.5" stroke="#E49805" stroke-width="1.6" stroke-opacity="0.65"/>
<line x1="373.0" y1="227.3" x2="373.0" y2="240.9" stroke="#E49805" stroke-width="1.6" stroke-opacity="0.65"/>
<line x1="375.7" y1="226.2" x2="375.7" y2="241.9" stroke="#0072B2" stroke-width="1.3" stroke-opacity="1"/>
<line x1="378.4" y1="233.5" x2="378.4" y2="244.0" stroke="#E49805" stroke-width="1.6" stroke-opacity="0.65"/>
<line x1="379.8" y1="245.9" x2="379.8" y2="256.4" stroke="#E49805" stroke-width="1.6" stroke-opacity="0.65"/>
<line x1="381.3" y1="237.6" x2="381.3" y2="249.2" stroke="#E49805" stroke-width="1.6" stroke-opacity="0.65"/>
<line x1="380.9" y1="240.7" x2="380.9" y2="252.3" stroke="#E49805" stroke-width="1.6" stroke-opacity="0.65"/>
<line x1="386.7" y1="232.4" x2="386.7" y2="245.0" stroke="#E49805" stroke-width="1.6" stroke-opacity="0.65"/>
<line x1="388.1" y1="214.8" x2="388.1" y2="232.6" stroke="#E49805" stroke-width="1.6" stroke-opacity="0.65"/>
<line x1="388.7" y1="225.2" x2="388.7" y2="236.7" stroke="#E49805" stroke-width="1.6" stroke-opacity="0.65"/>
<line x1="392.2" y1="216.9" x2="392.2" y2="230.5" stroke="#E49805" stroke-width="1.6" stroke-opacity="0.65"/>
<line x1="395.3" y1="213.8" x2="395.3" y2="229.5" stroke="#E49805" stroke-width="1.6" stroke-opacity="0.65"/>
<line x1="401.6" y1="211.7" x2="401.6" y2="228.5" stroke="#E49805" stroke-width="1.6" stroke-opacity="0.65"/>
<line x1="402.0" y1="226.2" x2="402.0" y2="239.8" stroke="#E49805" stroke-width="1.6" stroke-opacity="0.65"/>
<line x1="401.6" y1="243.8" x2="401.6" y2="257.0" stroke="#E49805" stroke-width="1.6" stroke-opacity="0.65"/>
<line x1="405.3" y1="230.4" x2="405.3" y2="244.0" stroke="#E49805" stroke-width="1.6" stroke-opacity="0.65"/>
<line x1="406.1" y1="234.5" x2="406.1" y2="246.1" stroke="#E49805" stroke-width="1.6" stroke-opacity="0.65"/>
<line x1="410.3" y1="222.7" x2="410.3" y2="243.0" stroke="#0072B2" stroke-width="1.3" stroke-opacity="1"/>
<line x1="416.1" y1="216.9" x2="416.1" y2="232.6" stroke="#E49805" stroke-width="1.6" stroke-opacity="0.65"/>
<line x1="417.1" y1="215.9" x2="417.1" y2="229.5" stroke="#E49805" stroke-width="1.6" stroke-opacity="0.65"/>
<line x1="416.5" y1="229.3" x2="416.5" y2="239.8" stroke="#E49805" stroke-width="1.6" stroke-opacity="0.65"/>
<line x1="419.8" y1="223.1" x2="419.8" y2="237.8" stroke="#E49805" stroke-width="1.6" stroke-opacity="0.65"/>
<line x1="420.2" y1="209.6" x2="420.2" y2="226.4" stroke="#E49805" stroke-width="1.6" stroke-opacity="0.65"/>
<line x1="426.0" y1="220.0" x2="426.0" y2="231.6" stroke="#E49805" stroke-width="1.6" stroke-opacity="0.65"/>
<line x1="427.5" y1="224.8" x2="427.5" y2="238.8" stroke="#0072B2" stroke-width="1.3" stroke-opacity="1"/>
<line x1="434.3" y1="228.3" x2="434.3" y2="239.8" stroke="#E49805" stroke-width="1.6" stroke-opacity="0.65"/>
<line x1="435.1" y1="234.5" x2="435.1" y2="246.1" stroke="#E49805" stroke-width="1.6" stroke-opacity="0.65"/>
<line x1="446.7" y1="226.2" x2="446.7" y2="236.7" stroke="#E49805" stroke-width="1.6" stroke-opacity="0.65"/>
<line x1="467.4" y1="232.4" x2="467.4" y2="244.0" stroke="#0072B2" stroke-width="1.3" stroke-opacity="1"/>
<line x1="475.1" y1="233.5" x2="475.1" y2="245.0" stroke="#0072B2" stroke-width="1.3" stroke-opacity="1"/>
<line x1="477.8" y1="226.8" x2="477.8" y2="240.9" stroke="#0072B2" stroke-width="1.3" stroke-opacity="1"/>
<line x1="478.8" y1="227.3" x2="478.8" y2="241.9" stroke="#0072B2" stroke-width="1.3" stroke-opacity="1"/>
<line x1="479.9" y1="227.3" x2="479.9" y2="240.9" stroke="#0072B2" stroke-width="1.3" stroke-opacity="1"/>
<line x1="480.9" y1="228.3" x2="480.9" y2="243.0" stroke="#0072B2" stroke-width="1.3" stroke-opacity="1"/>
<line x1="481.9" y1="227.3" x2="481.9" y2="239.8" stroke="#0072B2" stroke-width="1.3" stroke-opacity="1"/>
<line x1="481.9" y1="239.7" x2="481.9" y2="250.2" stroke="#E49805" stroke-width="1.6" stroke-opacity="0.65"/>
<line x1="485.0" y1="228.3" x2="485.0" y2="240.9" stroke="#0072B2" stroke-width="1.3" stroke-opacity="1"/>
<line x1="488.1" y1="224.1" x2="488.1" y2="237.8" stroke="#0072B2" stroke-width="1.3" stroke-opacity="1"/>
<line x1="490.6" y1="240.7" x2="490.6" y2="252.3" stroke="#E49805" stroke-width="1.6" stroke-opacity="0.65"/>
<line x1="497.5" y1="228.3" x2="497.5" y2="241.9" stroke="#0072B2" stroke-width="1.3" stroke-opacity="1"/>
<line x1="498.5" y1="222.1" x2="498.5" y2="234.7" stroke="#0072B2" stroke-width="1.3" stroke-opacity="1"/>
<line x1="499.1" y1="226.2" x2="499.1" y2="239.8" stroke="#0072B2" stroke-width="1.3" stroke-opacity="1"/>
<line x1="501.6" y1="226.2" x2="501.6" y2="239.8" stroke="#0072B2" stroke-width="1.3" stroke-opacity="1"/>
<line x1="507.4" y1="220.6" x2="507.4" y2="236.7" stroke="#0072B2" stroke-width="1.3" stroke-opacity="1"/>
<line x1="511.3" y1="223.1" x2="511.3" y2="238.8" stroke="#E49805" stroke-width="1.6" stroke-opacity="0.65"/>
<line x1="519.6" y1="223.1" x2="519.6" y2="237.8" stroke="#0072B2" stroke-width="1.3" stroke-opacity="1"/>
<line x1="519.8" y1="241.8" x2="519.8" y2="258.5" stroke="#0072B2" stroke-width="1.3" stroke-opacity="1"/>
<line x1="520.2" y1="225.2" x2="520.2" y2="240.5" stroke="#0072B2" stroke-width="1.3" stroke-opacity="1"/>
<line x1="524.4" y1="214.8" x2="524.4" y2="233.6" stroke="#0072B2" stroke-width="1.3" stroke-opacity="1"/>
<line x1="535.4" y1="214.8" x2="535.4" y2="233.6" stroke="#0072B2" stroke-width="1.3" stroke-opacity="1"/>
<circle cx="338.8" cy="246.5" r="1.35" fill="#E49805"/>
<circle cx="346.3" cy="221.2" r="1.35" fill="#E49805"/>
<circle cx="349.2" cy="243.4" r="1.35" fill="#E49805"/>
<circle cx="350.2" cy="242.4" r="1.35" fill="#E49805"/>
<circle cx="356.0" cy="236.1" r="1.35" fill="#E49805"/>
<circle cx="356.4" cy="247.5" r="1.35" fill="#E49805"/>
<circle cx="356.4" cy="251.1" r="1.35" fill="#E49805"/>
<circle cx="360.6" cy="236.1" r="1.35" fill="#E49805"/>
<circle cx="361.2" cy="239.2" r="1.35" fill="#E49805"/>
<circle cx="365.3" cy="235.1" r="1.35" fill="#E49805"/>
<circle cx="367.8" cy="233.0" r="1.35" fill="#E49805"/>
<circle cx="369.5" cy="236.1" r="1.7" fill="#0072B2"/>
<circle cx="370.1" cy="244.4" r="1.35" fill="#E49805"/>
<circle cx="372.2" cy="222.7" r="1.35" fill="#E49805"/>
<circle cx="373.0" cy="234.1" r="1.35" fill="#E49805"/>
<circle cx="375.7" cy="234.1" r="1.7" fill="#0072B2"/>
<circle cx="378.4" cy="239.2" r="1.35" fill="#E49805"/>
<circle cx="379.8" cy="251.1" r="1.35" fill="#E49805"/>
<circle cx="381.3" cy="243.4" r="1.35" fill="#E49805"/>
<circle cx="380.9" cy="246.5" r="1.35" fill="#E49805"/>
<circle cx="386.7" cy="238.2" r="1.35" fill="#E49805"/>
<circle cx="388.1" cy="223.7" r="1.35" fill="#E49805"/>
<circle cx="388.7" cy="231.0" r="1.35" fill="#E49805"/>
<circle cx="392.2" cy="223.7" r="1.35" fill="#E49805"/>
<circle cx="395.3" cy="221.6" r="1.35" fill="#E49805"/>
<circle cx="401.6" cy="220.6" r="1.35" fill="#E49805"/>
<circle cx="402.0" cy="233.0" r="1.35" fill="#E49805"/>
<circle cx="401.6" cy="250.2" r="1.35" fill="#E49805"/>
<circle cx="405.3" cy="237.2" r="1.35" fill="#E49805"/>
<circle cx="406.1" cy="241.3" r="1.35" fill="#E49805"/>
<circle cx="410.3" cy="233.0" r="1.7" fill="#0072B2"/>
<circle cx="416.1" cy="224.7" r="1.35" fill="#E49805"/>
<circle cx="417.1" cy="222.7" r="1.35" fill="#E49805"/>
<circle cx="416.5" cy="235.1" r="1.35" fill="#E49805"/>
<circle cx="419.8" cy="229.9" r="1.35" fill="#E49805"/>
<circle cx="420.2" cy="219.6" r="1.35" fill="#E49805"/>
<circle cx="426.0" cy="225.8" r="1.35" fill="#E49805"/>
<circle cx="427.5" cy="231.6" r="1.7" fill="#0072B2"/>
<circle cx="434.3" cy="234.1" r="1.35" fill="#E49805"/>
<circle cx="435.1" cy="240.3" r="1.35" fill="#E49805"/>
<circle cx="446.7" cy="231.6" r="1.35" fill="#E49805"/>
<circle cx="467.4" cy="238.2" r="1.7" fill="#0072B2"/>
<circle cx="475.1" cy="239.2" r="1.7" fill="#0072B2"/>
<circle cx="477.8" cy="234.1" r="1.7" fill="#0072B2"/>
<circle cx="478.8" cy="235.1" r="1.7" fill="#0072B2"/>
<circle cx="479.9" cy="233.7" r="1.7" fill="#0072B2"/>
<circle cx="480.9" cy="236.1" r="1.7" fill="#0072B2"/>
<circle cx="481.9" cy="233.0" r="1.7" fill="#0072B2"/>
<circle cx="481.9" cy="243.4" r="1.35" fill="#E49805"/>
<circle cx="485.0" cy="234.5" r="1.7" fill="#0072B2"/>
<circle cx="488.1" cy="231.0" r="1.7" fill="#0072B2"/>
<circle cx="490.6" cy="246.5" r="1.35" fill="#E49805"/>
<circle cx="497.5" cy="235.1" r="1.7" fill="#0072B2"/>
<circle cx="498.5" cy="227.9" r="1.7" fill="#0072B2"/>
<circle cx="499.1" cy="233.0" r="1.7" fill="#0072B2"/>
<circle cx="501.6" cy="233.0" r="1.7" fill="#0072B2"/>
<circle cx="507.4" cy="228.9" r="1.7" fill="#0072B2"/>
<circle cx="511.3" cy="231.0" r="1.35" fill="#E49805"/>
<circle cx="519.6" cy="231.0" r="1.7" fill="#0072B2"/>
<circle cx="519.8" cy="250.2" r="1.7" fill="#0072B2"/>
<circle cx="520.2" cy="233.0" r="1.7" fill="#0072B2"/>
<circle cx="524.4" cy="223.7" r="1.7" fill="#0072B2"/>
<circle cx="535.4" cy="224.1" r="1.7" fill="#0072B2"/>
<rect x="327.1" y="229.6" width="255.80" height="9.00" fill="rgba(0,114,178,0.2)"/>
<line x1="327.1" y1="234.1" x2="582.9" y2="234.1" stroke="#0072B2" stroke-width="1.5" stroke-opacity="0.85" stroke-dasharray="3.55 1.71"/>
<line x1="362.00" y1="282.9" x2="362.00" y2="276.80" stroke="#262626" stroke-width="1.3"/>
<line x1="408.50" y1="282.9" x2="408.50" y2="276.80" stroke="#262626" stroke-width="1.3"/>
<line x1="455.00" y1="282.9" x2="455.00" y2="276.80" stroke="#262626" stroke-width="1.3"/>
<line x1="501.50" y1="282.9" x2="501.50" y2="276.80" stroke="#262626" stroke-width="1.3"/>
<line x1="548.00" y1="282.9" x2="548.00" y2="276.80" stroke="#262626" stroke-width="1.3"/>
<line x1="327.1" y1="212.90" x2="333.10" y2="212.90" stroke="#262626" stroke-width="1.3"/>
<line x1="327.1" y1="238.30" x2="333.10" y2="238.30" stroke="#262626" stroke-width="1.3"/>
<line x1="327.1" y1="263.80" x2="333.10" y2="263.80" stroke="#262626" stroke-width="1.3"/>
<rect x="327.1" y="194.0" width="255.80" height="88.90" fill="none" stroke="#262626" stroke-width="1.3"/>
<text x="36.3" y="41.6" font-family="Liberation Serif" fill="#1e1e1e" font-size="12" text-anchor="end" textLength="19.6" lengthAdjust="spacingAndGlyphs">0.04</text>
<text x="36.3" y="64.35" font-family="Liberation Serif" fill="#1e1e1e" font-size="12" text-anchor="end" textLength="19.6" lengthAdjust="spacingAndGlyphs">0.02</text>
<text x="36.3" y="87.15" font-family="Liberation Serif" fill="#1e1e1e" font-size="12" text-anchor="end" textLength="19.6" lengthAdjust="spacingAndGlyphs">0.00</text>
<text x="324.0" y="38.8" font-family="Liberation Serif" fill="#1e1e1e" font-size="12" text-anchor="end" textLength="14.4" lengthAdjust="spacingAndGlyphs">0.1</text>
<text x="324.0" y="64.3" font-family="Liberation Serif" fill="#1e1e1e" font-size="12" text-anchor="end" textLength="14.4" lengthAdjust="spacingAndGlyphs">0.0</text>
<text x="324.0" y="89.8" font-family="Liberation Serif" fill="#1e1e1e" font-size="12" text-anchor="end" textLength="21.8" lengthAdjust="spacingAndGlyphs">−0.1</text>
<text x="36.3" y="130.7" font-family="Liberation Serif" fill="#1e1e1e" font-size="12" text-anchor="end" textLength="19.6" lengthAdjust="spacingAndGlyphs">0.04</text>
<text x="36.3" y="153.5" font-family="Liberation Serif" fill="#1e1e1e" font-size="12" text-anchor="end" textLength="19.6" lengthAdjust="spacingAndGlyphs">0.02</text>
<text x="36.3" y="176.3" font-family="Liberation Serif" fill="#1e1e1e" font-size="12" text-anchor="end" textLength="19.6" lengthAdjust="spacingAndGlyphs">0.00</text>
<text x="324.0" y="128.1" font-family="Liberation Serif" fill="#1e1e1e" font-size="12" text-anchor="end" textLength="14.4" lengthAdjust="spacingAndGlyphs">0.1</text>
<text x="324.0" y="153.5" font-family="Liberation Serif" fill="#1e1e1e" font-size="12" text-anchor="end" textLength="14.4" lengthAdjust="spacingAndGlyphs">0.0</text>
<text x="324.0" y="179.0" font-family="Liberation Serif" fill="#1e1e1e" font-size="12" text-anchor="end" textLength="21.8" lengthAdjust="spacingAndGlyphs">−0.1</text>
<text x="36.3" y="219.7" font-family="Liberation Serif" fill="#1e1e1e" font-size="12" text-anchor="end" textLength="19.6" lengthAdjust="spacingAndGlyphs">0.04</text>
<text x="36.3" y="242.6" font-family="Liberation Serif" fill="#1e1e1e" font-size="12" text-anchor="end" textLength="19.6" lengthAdjust="spacingAndGlyphs">0.02</text>
<text x="36.3" y="265.5" font-family="Liberation Serif" fill="#1e1e1e" font-size="12" text-anchor="end" textLength="19.6" lengthAdjust="spacingAndGlyphs">0.00</text>
<text x="324.0" y="217.1" font-family="Liberation Serif" fill="#1e1e1e" font-size="12" text-anchor="end" textLength="14.4" lengthAdjust="spacingAndGlyphs">0.1</text>
<text x="324.0" y="242.5" font-family="Liberation Serif" fill="#1e1e1e" font-size="12" text-anchor="end" textLength="14.4" lengthAdjust="spacingAndGlyphs">0.0</text>
<text x="324.0" y="268.0" font-family="Liberation Serif" fill="#1e1e1e" font-size="12" text-anchor="end" textLength="21.8" lengthAdjust="spacingAndGlyphs">−0.1</text>
<text x="74.76" y="294.7" font-family="Liberation Serif" fill="#1e1e1e" font-size="12" text-anchor="middle" textLength="5.9" lengthAdjust="spacingAndGlyphs">6</text>
<text x="362.4" y="294.7" font-family="Liberation Serif" fill="#1e1e1e" font-size="12" text-anchor="middle" textLength="5.9" lengthAdjust="spacingAndGlyphs">6</text>
<text x="121.26" y="294.7" font-family="Liberation Serif" fill="#1e1e1e" font-size="12" text-anchor="middle" textLength="5.9" lengthAdjust="spacingAndGlyphs">8</text>
<text x="408.9" y="294.7" font-family="Liberation Serif" fill="#1e1e1e" font-size="12" text-anchor="middle" textLength="5.9" lengthAdjust="spacingAndGlyphs">8</text>
<text x="167.76" y="294.7" font-family="Liberation Serif" fill="#1e1e1e" font-size="12" text-anchor="middle" textLength="11.6" lengthAdjust="spacingAndGlyphs">10</text>
<text x="455.4" y="294.7" font-family="Liberation Serif" fill="#1e1e1e" font-size="12" text-anchor="middle" textLength="11.6" lengthAdjust="spacingAndGlyphs">10</text>
<text x="214.26" y="294.7" font-family="Liberation Serif" fill="#1e1e1e" font-size="12" text-anchor="middle" textLength="11.6" lengthAdjust="spacingAndGlyphs">12</text>
<text x="501.9" y="294.7" font-family="Liberation Serif" fill="#1e1e1e" font-size="12" text-anchor="middle" textLength="11.6" lengthAdjust="spacingAndGlyphs">12</text>
<text x="260.76" y="294.7" font-family="Liberation Serif" fill="#1e1e1e" font-size="12" text-anchor="middle" textLength="11.6" lengthAdjust="spacingAndGlyphs">14</text>
<text x="548.4" y="294.7" font-family="Liberation Serif" fill="#1e1e1e" font-size="12" text-anchor="middle" textLength="11.6" lengthAdjust="spacingAndGlyphs">14</text>
<text x="167.9" y="9.6" font-family="Liberation Serif" fill="#1e1e1e" font-size="12" text-anchor="middle" textLength="73.5" lengthAdjust="spacingAndGlyphs"><tspan font-style="italic">Gaia</tspan> (E)DR3</text>
<text x="455.1" y="10.0" font-family="Liberation Serif" fill="#1e1e1e" font-size="12.6" text-anchor="middle" textLength="42.3" lengthAdjust="spacingAndGlyphs">2MASS</text>
<text x="46.4" y="31.2" font-family="Liberation Serif" fill="#1e1e1e" font-size="13" textLength="19.8" lengthAdjust="spacingAndGlyphs" font-style="italic">BP</text>
<text x="49.8" y="120.6" font-family="Liberation Serif" fill="#1e1e1e" font-size="13.2" textLength="10.4" lengthAdjust="spacingAndGlyphs" font-style="italic">G</text>
<text x="46.4" y="209.5" font-family="Liberation Serif" fill="#1e1e1e" font-size="13" textLength="19.3" lengthAdjust="spacingAndGlyphs" font-style="italic">RP</text>
<text x="564.4" y="31.3" font-family="Liberation Serif" fill="#1e1e1e" font-size="13" textLength="7.8" lengthAdjust="spacingAndGlyphs" font-style="italic">J</text>
<text x="562.8" y="120.4" font-family="Liberation Serif" fill="#1e1e1e" font-size="13" textLength="10.2" lengthAdjust="spacingAndGlyphs" font-style="italic">H</text>
<text x="560.3" y="209.4" font-family="Liberation Serif" fill="#1e1e1e" font-size="13" textLength="8.6" lengthAdjust="spacingAndGlyphs" font-style="italic">K</text>
<text x="569.8" y="211.4" font-family="Liberation Serif" fill="#1e1e1e" font-size="9" textLength="6.2" lengthAdjust="spacingAndGlyphs" font-style="italic">S</text>
<text x="229.0" y="306.5" font-family="Liberation Serif" fill="#1e1e1e" font-size="12.2" textLength="113.5" lengthAdjust="spacingAndGlyphs">Apparent magnitude</text>
<text x="346.8" y="306.5" font-family="Liberation Serif" fill="#1e1e1e" font-size="12.2" textLength="10.6" lengthAdjust="spacingAndGlyphs" font-style="italic">m</text>
<polygon points="360.50,304.60 360.98,305.74 362.21,305.84 361.27,306.65 361.56,307.86 360.50,307.21 359.44,307.86 359.73,306.65 358.79,305.84 360.02,305.74" fill="#1e1e1e"/>
<text x="363.4" y="306.5" font-family="Liberation Serif" fill="#1e1e1e" font-size="12.2" textLength="54.6" lengthAdjust="spacingAndGlyphs">, observed</text>
<g transform="translate(9.7,218.6) rotate(-90)"><text x="-0.2" y="0" font-family="Liberation Serif" fill="#1e1e1e" font-size="13.2" textLength="8.6" lengthAdjust="spacingAndGlyphs">Δ</text><text x="9.0" y="0" font-family="Liberation Serif" fill="#1e1e1e" font-size="12.2" textLength="10.6" lengthAdjust="spacingAndGlyphs" font-style="italic">m</text><polygon points="22.60,-1.90 23.08,-0.76 24.31,-0.66 23.37,0.15 23.66,1.36 22.60,0.71 21.54,1.36 21.83,0.15 20.89,-0.66 22.12,-0.76" fill="#1e1e1e"/><text x="26.6" y="0" font-family="Liberation Serif" fill="#1e1e1e" font-size="12.2" textLength="122.5" lengthAdjust="spacingAndGlyphs">, observed − synthetic</text></g>
<text x="612.8" y="123.6" font-family="Liberation Serif" fill="#1e1e1e" font-size="11.6" text-anchor="middle" textLength="48.2" lengthAdjust="spacingAndGlyphs">Empirical</text>
<text x="612.8" y="134.6" font-family="Liberation Serif" fill="#1e1e1e" font-size="11.6" text-anchor="middle" textLength="39.3" lengthAdjust="spacingAndGlyphs">spectral</text>
<text x="612.8" y="145.6" font-family="Liberation Serif" fill="#1e1e1e" font-size="11.6" text-anchor="middle" textLength="48.0" lengthAdjust="spacingAndGlyphs">coverage?</text>
<circle cx="598.3" cy="160.8" r="2.6" fill="#0072B2"/>
<circle cx="598.3" cy="175.7" r="2.6" fill="#E49805"/>
<text x="607.2" y="163.8" font-family="Liberation Serif" fill="#1e1e1e" font-size="11.5" textLength="22.0" lengthAdjust="spacingAndGlyphs">True</text>
<text x="606.6" y="178.5" font-family="Liberation Serif" fill="#1e1e1e" font-size="11.5" textLength="24.2" lengthAdjust="spacingAndGlyphs">False</text>
</svg>
</body></html>
